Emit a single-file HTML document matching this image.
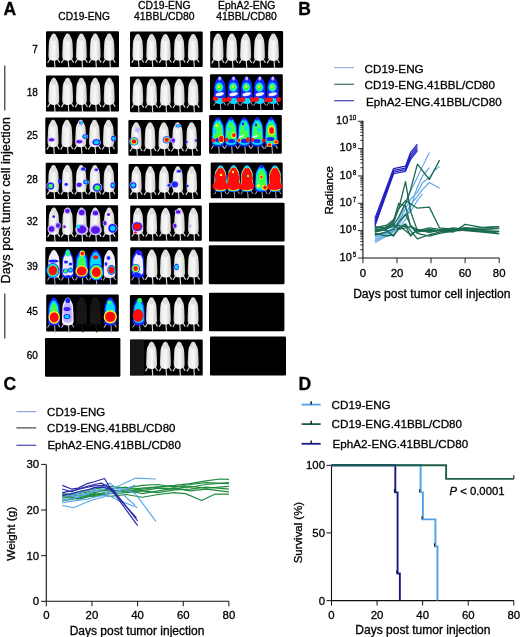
<!DOCTYPE html><html><head><meta charset="utf-8"><title>Figure</title><style>html,body{margin:0;padding:0;background:#fff;}body{width:520px;height:637px;overflow:hidden;}svg{display:block;}text{stroke:#000;stroke-width:0.3px;}</style></head><body><svg width="520" height="637" viewBox="0 0 520 637" font-family="'Liberation Sans', Arial, sans-serif" fill="#000"><defs><linearGradient id="mg" x1="0" x2="1" y1="0" y2="0"><stop offset="0" stop-color="#c4c4c4"/><stop offset="0.16" stop-color="#ebebeb"/><stop offset="0.55" stop-color="#f9f9f9"/><stop offset="1" stop-color="#cacaca"/></linearGradient><filter id="soft" x="-5%" y="-5%" width="110%" height="110%"><feGaussianBlur stdDeviation="0.35"/></filter><filter id="mblur" x="-5%" y="-5%" width="110%" height="110%"><feGaussianBlur stdDeviation="0.55"/></filter><filter id="hblur" x="-5%" y="-5%" width="110%" height="110%"><feGaussianBlur stdDeviation="0.7"/></filter></defs><rect width="520" height="637" fill="#fff"/><g id="panelA"><text x="3.5" y="14.8" font-size="17.5" font-weight="bold">A</text><g font-size="10.4" text-anchor="middle"><text x="84.1" y="20.0" font-size="10.2">CD19-ENG</text><text x="164.3" y="8.6">CD19-ENG</text><text x="164.3" y="20.4">41BBL/CD80</text><text x="246.7" y="8.6">EphA2-ENG</text><text x="246.5" y="20.4">41BBL/CD80</text></g><g font-size="10" text-anchor="end"><text x="37.8" y="52.5">7</text><text x="37.8" y="95.8">18</text><text x="37.8" y="139">25</text><text x="37.8" y="183">28</text><text x="37.8" y="224.8">32</text><text x="37.8" y="270.3">39</text><text x="37.8" y="315.3">45</text><text x="37.8" y="358.6">60</text></g><text transform="translate(9.7,200.3) rotate(-90)" font-size="12.8" text-anchor="middle">Days post tumor cell injection</text><path d="M4.8,65.5 V110.5 M4.8,293.4 V338.6" stroke="#222" stroke-width="1.1"/><g filter="url(#soft)"><rect x="46.00" y="31.30" width="73.00" height="35.90" rx="1.2" fill="#000"/><rect x="46.00" y="75.40" width="73.00" height="36.20" rx="1.2" fill="#000"/><rect x="45.30" y="117.50" width="72.40" height="36.50" rx="1.2" fill="#000"/><rect x="45.70" y="162.80" width="72.30" height="36.10" rx="1.2" fill="#000"/><rect x="46.00" y="205.30" width="72.10" height="36.20" rx="1.2" fill="#000"/><rect x="45.30" y="246.90" width="72.30" height="37.50" rx="1.2" fill="#000"/><rect x="46.20" y="294.50" width="72.60" height="37.00" rx="1.2" fill="#000"/><rect x="45.00" y="338.10" width="75.40" height="38.70" rx="1.2" fill="#000"/><rect x="130.00" y="31.60" width="72.70" height="35.40" rx="1.2" fill="#000"/><rect x="130.00" y="76.40" width="72.70" height="35.80" rx="1.2" fill="#000"/><rect x="128.40" y="119.90" width="72.60" height="35.80" rx="1.2" fill="#000"/><rect x="128.60" y="164.00" width="72.40" height="35.10" rx="1.2" fill="#000"/><rect x="130.20" y="205.40" width="71.60" height="35.40" rx="1.2" fill="#000"/><rect x="130.20" y="247.20" width="72.50" height="37.30" rx="1.2" fill="#000"/><rect x="129.90" y="294.90" width="72.70" height="36.40" rx="1.2" fill="#000"/><rect x="130.00" y="339.40" width="72.70" height="36.20" rx="1.2" fill="#000"/><rect x="210.20" y="31.10" width="72.90" height="36.60" rx="1.2" fill="#000"/><rect x="210.00" y="74.20" width="72.80" height="35.80" rx="1.2" fill="#000"/><rect x="209.10" y="115.00" width="72.70" height="38.70" rx="1.2" fill="#000"/><rect x="210.70" y="162.40" width="72.00" height="35.90" rx="1.2" fill="#000"/><rect x="209.00" y="202.70" width="75.60" height="38.80" rx="1.2" fill="#000"/><rect x="208.80" y="245.30" width="75.70" height="38.90" rx="1.2" fill="#000"/><rect x="209.00" y="292.80" width="75.40" height="38.40" rx="1.2" fill="#000"/><rect x="210.00" y="336.50" width="76.00" height="38.90" rx="1.2" fill="#000"/></g></g><g filter="url(#mblur)"><g transform="translate(53.80,33.60) scale(0.984)" opacity="1.0"><path d="M-3.6,25.5 L-6.0,29.4 M3.6,25.5 L5.8,29.0 M0.6,26.5 L1.2,34.5" stroke="#d8d8d8" stroke-width="1.2" fill="none" stroke-linecap="round"/><path d="M0,0 C1.3,0 2.0,1.0 2.5,2.2 C3.1,3.6 4.0,4.8 4.5,6.5 C5.0,8.5 5.1,11 5.2,14 C5.3,17 5.6,20.5 5.4,23.8 C5.2,26.4 2.8,27.5 0,27.5 C-2.8,27.5 -5.2,26.4 -5.4,23.8 C-5.6,20.5 -5.3,17 -5.2,14 C-5.1,11 -5.0,8.5 -4.5,6.5 C-4.0,4.8 -3.1,3.6 -2.5,2.2 C-2.0,1.0 -1.3,0 0,0 Z" fill="url(#mg)"/><ellipse cx="0" cy="3.6" rx="2.4" ry="3.8" fill="#8a8a8a" opacity="0.2"/></g><g transform="translate(67.60,33.60) scale(0.984)" opacity="1.0"><path d="M-3.6,25.5 L-6.0,29.4 M3.6,25.5 L5.8,29.0 M0.6,26.5 L1.2,34.5" stroke="#d8d8d8" stroke-width="1.2" fill="none" stroke-linecap="round"/><path d="M0,0 C1.3,0 2.0,1.0 2.5,2.2 C3.1,3.6 4.0,4.8 4.5,6.5 C5.0,8.5 5.1,11 5.2,14 C5.3,17 5.6,20.5 5.4,23.8 C5.2,26.4 2.8,27.5 0,27.5 C-2.8,27.5 -5.2,26.4 -5.4,23.8 C-5.6,20.5 -5.3,17 -5.2,14 C-5.1,11 -5.0,8.5 -4.5,6.5 C-4.0,4.8 -3.1,3.6 -2.5,2.2 C-2.0,1.0 -1.3,0 0,0 Z" fill="url(#mg)"/><ellipse cx="0" cy="3.6" rx="2.4" ry="3.8" fill="#8a8a8a" opacity="0.2"/></g><g transform="translate(81.40,33.60) scale(0.984)" opacity="1.0"><path d="M-3.6,25.5 L-6.0,29.4 M3.6,25.5 L5.8,29.0 M0.6,26.5 L1.2,34.5" stroke="#d8d8d8" stroke-width="1.2" fill="none" stroke-linecap="round"/><path d="M0,0 C1.3,0 2.0,1.0 2.5,2.2 C3.1,3.6 4.0,4.8 4.5,6.5 C5.0,8.5 5.1,11 5.2,14 C5.3,17 5.6,20.5 5.4,23.8 C5.2,26.4 2.8,27.5 0,27.5 C-2.8,27.5 -5.2,26.4 -5.4,23.8 C-5.6,20.5 -5.3,17 -5.2,14 C-5.1,11 -5.0,8.5 -4.5,6.5 C-4.0,4.8 -3.1,3.6 -2.5,2.2 C-2.0,1.0 -1.3,0 0,0 Z" fill="url(#mg)"/><ellipse cx="0" cy="3.6" rx="2.4" ry="3.8" fill="#8a8a8a" opacity="0.2"/></g><g transform="translate(95.20,33.60) scale(0.984)" opacity="1.0"><path d="M-3.6,25.5 L-6.0,29.4 M3.6,25.5 L5.8,29.0 M0.6,26.5 L1.2,34.5" stroke="#d8d8d8" stroke-width="1.2" fill="none" stroke-linecap="round"/><path d="M0,0 C1.3,0 2.0,1.0 2.5,2.2 C3.1,3.6 4.0,4.8 4.5,6.5 C5.0,8.5 5.1,11 5.2,14 C5.3,17 5.6,20.5 5.4,23.8 C5.2,26.4 2.8,27.5 0,27.5 C-2.8,27.5 -5.2,26.4 -5.4,23.8 C-5.6,20.5 -5.3,17 -5.2,14 C-5.1,11 -5.0,8.5 -4.5,6.5 C-4.0,4.8 -3.1,3.6 -2.5,2.2 C-2.0,1.0 -1.3,0 0,0 Z" fill="url(#mg)"/><ellipse cx="0" cy="3.6" rx="2.4" ry="3.8" fill="#8a8a8a" opacity="0.2"/></g><g transform="translate(109.20,33.60) scale(0.984)" opacity="1.0"><path d="M-3.6,25.5 L-6.0,29.4 M3.6,25.5 L5.8,29.0 M0.6,26.5 L1.2,34.5" stroke="#d8d8d8" stroke-width="1.2" fill="none" stroke-linecap="round"/><path d="M0,0 C1.3,0 2.0,1.0 2.5,2.2 C3.1,3.6 4.0,4.8 4.5,6.5 C5.0,8.5 5.1,11 5.2,14 C5.3,17 5.6,20.5 5.4,23.8 C5.2,26.4 2.8,27.5 0,27.5 C-2.8,27.5 -5.2,26.4 -5.4,23.8 C-5.6,20.5 -5.3,17 -5.2,14 C-5.1,11 -5.0,8.5 -4.5,6.5 C-4.0,4.8 -3.1,3.6 -2.5,2.2 C-2.0,1.0 -1.3,0 0,0 Z" fill="url(#mg)"/><ellipse cx="0" cy="3.6" rx="2.4" ry="3.8" fill="#8a8a8a" opacity="0.2"/></g><g transform="translate(53.80,77.70) scale(0.992)" opacity="1.0"><path d="M-3.6,25.5 L-6.0,29.4 M3.6,25.5 L5.8,29.0 M0.6,26.5 L1.2,34.5" stroke="#d8d8d8" stroke-width="1.2" fill="none" stroke-linecap="round"/><path d="M0,0 C1.3,0 2.0,1.0 2.5,2.2 C3.1,3.6 4.0,4.8 4.5,6.5 C5.0,8.5 5.1,11 5.2,14 C5.3,17 5.6,20.5 5.4,23.8 C5.2,26.4 2.8,27.5 0,27.5 C-2.8,27.5 -5.2,26.4 -5.4,23.8 C-5.6,20.5 -5.3,17 -5.2,14 C-5.1,11 -5.0,8.5 -4.5,6.5 C-4.0,4.8 -3.1,3.6 -2.5,2.2 C-2.0,1.0 -1.3,0 0,0 Z" fill="url(#mg)"/><ellipse cx="0" cy="3.6" rx="2.4" ry="3.8" fill="#8a8a8a" opacity="0.2"/></g><g transform="translate(67.60,77.70) scale(0.992)" opacity="1.0"><path d="M-3.6,25.5 L-6.0,29.4 M3.6,25.5 L5.8,29.0 M0.6,26.5 L1.2,34.5" stroke="#d8d8d8" stroke-width="1.2" fill="none" stroke-linecap="round"/><path d="M0,0 C1.3,0 2.0,1.0 2.5,2.2 C3.1,3.6 4.0,4.8 4.5,6.5 C5.0,8.5 5.1,11 5.2,14 C5.3,17 5.6,20.5 5.4,23.8 C5.2,26.4 2.8,27.5 0,27.5 C-2.8,27.5 -5.2,26.4 -5.4,23.8 C-5.6,20.5 -5.3,17 -5.2,14 C-5.1,11 -5.0,8.5 -4.5,6.5 C-4.0,4.8 -3.1,3.6 -2.5,2.2 C-2.0,1.0 -1.3,0 0,0 Z" fill="url(#mg)"/><ellipse cx="0" cy="3.6" rx="2.4" ry="3.8" fill="#8a8a8a" opacity="0.2"/></g><g transform="translate(81.40,77.70) scale(0.992)" opacity="1.0"><path d="M-3.6,25.5 L-6.0,29.4 M3.6,25.5 L5.8,29.0 M0.6,26.5 L1.2,34.5" stroke="#d8d8d8" stroke-width="1.2" fill="none" stroke-linecap="round"/><path d="M0,0 C1.3,0 2.0,1.0 2.5,2.2 C3.1,3.6 4.0,4.8 4.5,6.5 C5.0,8.5 5.1,11 5.2,14 C5.3,17 5.6,20.5 5.4,23.8 C5.2,26.4 2.8,27.5 0,27.5 C-2.8,27.5 -5.2,26.4 -5.4,23.8 C-5.6,20.5 -5.3,17 -5.2,14 C-5.1,11 -5.0,8.5 -4.5,6.5 C-4.0,4.8 -3.1,3.6 -2.5,2.2 C-2.0,1.0 -1.3,0 0,0 Z" fill="url(#mg)"/><ellipse cx="0" cy="3.6" rx="2.4" ry="3.8" fill="#8a8a8a" opacity="0.2"/></g><g transform="translate(95.20,77.70) scale(0.992)" opacity="1.0"><path d="M-3.6,25.5 L-6.0,29.4 M3.6,25.5 L5.8,29.0 M0.6,26.5 L1.2,34.5" stroke="#d8d8d8" stroke-width="1.2" fill="none" stroke-linecap="round"/><path d="M0,0 C1.3,0 2.0,1.0 2.5,2.2 C3.1,3.6 4.0,4.8 4.5,6.5 C5.0,8.5 5.1,11 5.2,14 C5.3,17 5.6,20.5 5.4,23.8 C5.2,26.4 2.8,27.5 0,27.5 C-2.8,27.5 -5.2,26.4 -5.4,23.8 C-5.6,20.5 -5.3,17 -5.2,14 C-5.1,11 -5.0,8.5 -4.5,6.5 C-4.0,4.8 -3.1,3.6 -2.5,2.2 C-2.0,1.0 -1.3,0 0,0 Z" fill="url(#mg)"/><ellipse cx="0" cy="3.6" rx="2.4" ry="3.8" fill="#8a8a8a" opacity="0.2"/></g><g transform="translate(109.20,77.70) scale(0.992)" opacity="1.0"><path d="M-3.6,25.5 L-6.0,29.4 M3.6,25.5 L5.8,29.0 M0.6,26.5 L1.2,34.5" stroke="#d8d8d8" stroke-width="1.2" fill="none" stroke-linecap="round"/><path d="M0,0 C1.3,0 2.0,1.0 2.5,2.2 C3.1,3.6 4.0,4.8 4.5,6.5 C5.0,8.5 5.1,11 5.2,14 C5.3,17 5.6,20.5 5.4,23.8 C5.2,26.4 2.8,27.5 0,27.5 C-2.8,27.5 -5.2,26.4 -5.4,23.8 C-5.6,20.5 -5.3,17 -5.2,14 C-5.1,11 -5.0,8.5 -4.5,6.5 C-4.0,4.8 -3.1,3.6 -2.5,2.2 C-2.0,1.0 -1.3,0 0,0 Z" fill="url(#mg)"/><ellipse cx="0" cy="3.6" rx="2.4" ry="3.8" fill="#8a8a8a" opacity="0.2"/></g><g transform="translate(53.10,119.80) scale(1.000)" opacity="1.0"><path d="M-3.6,25.5 L-6.0,29.4 M3.6,25.5 L5.8,29.0 M0.6,26.5 L1.2,34.5" stroke="#d8d8d8" stroke-width="1.2" fill="none" stroke-linecap="round"/><path d="M0,0 C1.3,0 2.0,1.0 2.5,2.2 C3.1,3.6 4.0,4.8 4.5,6.5 C5.0,8.5 5.1,11 5.2,14 C5.3,17 5.6,20.5 5.4,23.8 C5.2,26.4 2.8,27.5 0,27.5 C-2.8,27.5 -5.2,26.4 -5.4,23.8 C-5.6,20.5 -5.3,17 -5.2,14 C-5.1,11 -5.0,8.5 -4.5,6.5 C-4.0,4.8 -3.1,3.6 -2.5,2.2 C-2.0,1.0 -1.3,0 0,0 Z" fill="url(#mg)"/><ellipse cx="0" cy="3.6" rx="2.4" ry="3.8" fill="#8a8a8a" opacity="0.2"/></g><g transform="translate(66.90,119.80) scale(1.000)" opacity="1.0"><path d="M-3.6,25.5 L-6.0,29.4 M3.6,25.5 L5.8,29.0 M0.6,26.5 L1.2,34.5" stroke="#d8d8d8" stroke-width="1.2" fill="none" stroke-linecap="round"/><path d="M0,0 C1.3,0 2.0,1.0 2.5,2.2 C3.1,3.6 4.0,4.8 4.5,6.5 C5.0,8.5 5.1,11 5.2,14 C5.3,17 5.6,20.5 5.4,23.8 C5.2,26.4 2.8,27.5 0,27.5 C-2.8,27.5 -5.2,26.4 -5.4,23.8 C-5.6,20.5 -5.3,17 -5.2,14 C-5.1,11 -5.0,8.5 -4.5,6.5 C-4.0,4.8 -3.1,3.6 -2.5,2.2 C-2.0,1.0 -1.3,0 0,0 Z" fill="url(#mg)"/><ellipse cx="0" cy="3.6" rx="2.4" ry="3.8" fill="#8a8a8a" opacity="0.2"/></g><g transform="translate(80.70,119.80) scale(1.000)" opacity="1.0"><path d="M-3.6,25.5 L-6.0,29.4 M3.6,25.5 L5.8,29.0 M0.6,26.5 L1.2,34.5" stroke="#d8d8d8" stroke-width="1.2" fill="none" stroke-linecap="round"/><path d="M0,0 C1.3,0 2.0,1.0 2.5,2.2 C3.1,3.6 4.0,4.8 4.5,6.5 C5.0,8.5 5.1,11 5.2,14 C5.3,17 5.6,20.5 5.4,23.8 C5.2,26.4 2.8,27.5 0,27.5 C-2.8,27.5 -5.2,26.4 -5.4,23.8 C-5.6,20.5 -5.3,17 -5.2,14 C-5.1,11 -5.0,8.5 -4.5,6.5 C-4.0,4.8 -3.1,3.6 -2.5,2.2 C-2.0,1.0 -1.3,0 0,0 Z" fill="url(#mg)"/><ellipse cx="0" cy="3.6" rx="2.4" ry="3.8" fill="#8a8a8a" opacity="0.2"/></g><g transform="translate(94.50,119.80) scale(1.000)" opacity="1.0"><path d="M-3.6,25.5 L-6.0,29.4 M3.6,25.5 L5.8,29.0 M0.6,26.5 L1.2,34.5" stroke="#d8d8d8" stroke-width="1.2" fill="none" stroke-linecap="round"/><path d="M0,0 C1.3,0 2.0,1.0 2.5,2.2 C3.1,3.6 4.0,4.8 4.5,6.5 C5.0,8.5 5.1,11 5.2,14 C5.3,17 5.6,20.5 5.4,23.8 C5.2,26.4 2.8,27.5 0,27.5 C-2.8,27.5 -5.2,26.4 -5.4,23.8 C-5.6,20.5 -5.3,17 -5.2,14 C-5.1,11 -5.0,8.5 -4.5,6.5 C-4.0,4.8 -3.1,3.6 -2.5,2.2 C-2.0,1.0 -1.3,0 0,0 Z" fill="url(#mg)"/><ellipse cx="0" cy="3.6" rx="2.4" ry="3.8" fill="#8a8a8a" opacity="0.2"/></g><g transform="translate(108.50,119.80) scale(1.000)" opacity="1.0"><path d="M-3.6,25.5 L-6.0,29.4 M3.6,25.5 L5.8,29.0 M0.6,26.5 L1.2,34.5" stroke="#d8d8d8" stroke-width="1.2" fill="none" stroke-linecap="round"/><path d="M0,0 C1.3,0 2.0,1.0 2.5,2.2 C3.1,3.6 4.0,4.8 4.5,6.5 C5.0,8.5 5.1,11 5.2,14 C5.3,17 5.6,20.5 5.4,23.8 C5.2,26.4 2.8,27.5 0,27.5 C-2.8,27.5 -5.2,26.4 -5.4,23.8 C-5.6,20.5 -5.3,17 -5.2,14 C-5.1,11 -5.0,8.5 -4.5,6.5 C-4.0,4.8 -3.1,3.6 -2.5,2.2 C-2.0,1.0 -1.3,0 0,0 Z" fill="url(#mg)"/><ellipse cx="0" cy="3.6" rx="2.4" ry="3.8" fill="#8a8a8a" opacity="0.2"/></g><g transform="translate(53.50,165.10) scale(0.989)" opacity="1.0"><path d="M-3.6,25.5 L-6.0,29.4 M3.6,25.5 L5.8,29.0 M0.6,26.5 L1.2,34.5" stroke="#d8d8d8" stroke-width="1.2" fill="none" stroke-linecap="round"/><path d="M0,0 C1.3,0 2.0,1.0 2.5,2.2 C3.1,3.6 4.0,4.8 4.5,6.5 C5.0,8.5 5.1,11 5.2,14 C5.3,17 5.6,20.5 5.4,23.8 C5.2,26.4 2.8,27.5 0,27.5 C-2.8,27.5 -5.2,26.4 -5.4,23.8 C-5.6,20.5 -5.3,17 -5.2,14 C-5.1,11 -5.0,8.5 -4.5,6.5 C-4.0,4.8 -3.1,3.6 -2.5,2.2 C-2.0,1.0 -1.3,0 0,0 Z" fill="url(#mg)"/><ellipse cx="0" cy="3.6" rx="2.4" ry="3.8" fill="#8a8a8a" opacity="0.2"/></g><g transform="translate(67.30,165.10) scale(0.989)" opacity="1.0"><path d="M-3.6,25.5 L-6.0,29.4 M3.6,25.5 L5.8,29.0 M0.6,26.5 L1.2,34.5" stroke="#d8d8d8" stroke-width="1.2" fill="none" stroke-linecap="round"/><path d="M0,0 C1.3,0 2.0,1.0 2.5,2.2 C3.1,3.6 4.0,4.8 4.5,6.5 C5.0,8.5 5.1,11 5.2,14 C5.3,17 5.6,20.5 5.4,23.8 C5.2,26.4 2.8,27.5 0,27.5 C-2.8,27.5 -5.2,26.4 -5.4,23.8 C-5.6,20.5 -5.3,17 -5.2,14 C-5.1,11 -5.0,8.5 -4.5,6.5 C-4.0,4.8 -3.1,3.6 -2.5,2.2 C-2.0,1.0 -1.3,0 0,0 Z" fill="url(#mg)"/><ellipse cx="0" cy="3.6" rx="2.4" ry="3.8" fill="#8a8a8a" opacity="0.2"/></g><g transform="translate(81.10,165.10) scale(0.989)" opacity="1.0"><path d="M-3.6,25.5 L-6.0,29.4 M3.6,25.5 L5.8,29.0 M0.6,26.5 L1.2,34.5" stroke="#d8d8d8" stroke-width="1.2" fill="none" stroke-linecap="round"/><path d="M0,0 C1.3,0 2.0,1.0 2.5,2.2 C3.1,3.6 4.0,4.8 4.5,6.5 C5.0,8.5 5.1,11 5.2,14 C5.3,17 5.6,20.5 5.4,23.8 C5.2,26.4 2.8,27.5 0,27.5 C-2.8,27.5 -5.2,26.4 -5.4,23.8 C-5.6,20.5 -5.3,17 -5.2,14 C-5.1,11 -5.0,8.5 -4.5,6.5 C-4.0,4.8 -3.1,3.6 -2.5,2.2 C-2.0,1.0 -1.3,0 0,0 Z" fill="url(#mg)"/><ellipse cx="0" cy="3.6" rx="2.4" ry="3.8" fill="#8a8a8a" opacity="0.2"/></g><g transform="translate(94.90,165.10) scale(0.989)" opacity="1.0"><path d="M-3.6,25.5 L-6.0,29.4 M3.6,25.5 L5.8,29.0 M0.6,26.5 L1.2,34.5" stroke="#d8d8d8" stroke-width="1.2" fill="none" stroke-linecap="round"/><path d="M0,0 C1.3,0 2.0,1.0 2.5,2.2 C3.1,3.6 4.0,4.8 4.5,6.5 C5.0,8.5 5.1,11 5.2,14 C5.3,17 5.6,20.5 5.4,23.8 C5.2,26.4 2.8,27.5 0,27.5 C-2.8,27.5 -5.2,26.4 -5.4,23.8 C-5.6,20.5 -5.3,17 -5.2,14 C-5.1,11 -5.0,8.5 -4.5,6.5 C-4.0,4.8 -3.1,3.6 -2.5,2.2 C-2.0,1.0 -1.3,0 0,0 Z" fill="url(#mg)"/><ellipse cx="0" cy="3.6" rx="2.4" ry="3.8" fill="#8a8a8a" opacity="0.2"/></g><g transform="translate(108.90,165.10) scale(0.989)" opacity="1.0"><path d="M-3.6,25.5 L-6.0,29.4 M3.6,25.5 L5.8,29.0 M0.6,26.5 L1.2,34.5" stroke="#d8d8d8" stroke-width="1.2" fill="none" stroke-linecap="round"/><path d="M0,0 C1.3,0 2.0,1.0 2.5,2.2 C3.1,3.6 4.0,4.8 4.5,6.5 C5.0,8.5 5.1,11 5.2,14 C5.3,17 5.6,20.5 5.4,23.8 C5.2,26.4 2.8,27.5 0,27.5 C-2.8,27.5 -5.2,26.4 -5.4,23.8 C-5.6,20.5 -5.3,17 -5.2,14 C-5.1,11 -5.0,8.5 -4.5,6.5 C-4.0,4.8 -3.1,3.6 -2.5,2.2 C-2.0,1.0 -1.3,0 0,0 Z" fill="url(#mg)"/><ellipse cx="0" cy="3.6" rx="2.4" ry="3.8" fill="#8a8a8a" opacity="0.2"/></g><g transform="translate(53.80,207.60) scale(0.992)" opacity="1.0"><path d="M-3.6,25.5 L-6.0,29.4 M3.6,25.5 L5.8,29.0 M0.6,26.5 L1.2,34.5" stroke="#d8d8d8" stroke-width="1.2" fill="none" stroke-linecap="round"/><path d="M0,0 C1.3,0 2.0,1.0 2.5,2.2 C3.1,3.6 4.0,4.8 4.5,6.5 C5.0,8.5 5.1,11 5.2,14 C5.3,17 5.6,20.5 5.4,23.8 C5.2,26.4 2.8,27.5 0,27.5 C-2.8,27.5 -5.2,26.4 -5.4,23.8 C-5.6,20.5 -5.3,17 -5.2,14 C-5.1,11 -5.0,8.5 -4.5,6.5 C-4.0,4.8 -3.1,3.6 -2.5,2.2 C-2.0,1.0 -1.3,0 0,0 Z" fill="url(#mg)"/><ellipse cx="0" cy="3.6" rx="2.4" ry="3.8" fill="#8a8a8a" opacity="0.2"/></g><g transform="translate(67.60,207.60) scale(0.992)" opacity="1.0"><path d="M-3.6,25.5 L-6.0,29.4 M3.6,25.5 L5.8,29.0 M0.6,26.5 L1.2,34.5" stroke="#d8d8d8" stroke-width="1.2" fill="none" stroke-linecap="round"/><path d="M0,0 C1.3,0 2.0,1.0 2.5,2.2 C3.1,3.6 4.0,4.8 4.5,6.5 C5.0,8.5 5.1,11 5.2,14 C5.3,17 5.6,20.5 5.4,23.8 C5.2,26.4 2.8,27.5 0,27.5 C-2.8,27.5 -5.2,26.4 -5.4,23.8 C-5.6,20.5 -5.3,17 -5.2,14 C-5.1,11 -5.0,8.5 -4.5,6.5 C-4.0,4.8 -3.1,3.6 -2.5,2.2 C-2.0,1.0 -1.3,0 0,0 Z" fill="url(#mg)"/><ellipse cx="0" cy="3.6" rx="2.4" ry="3.8" fill="#8a8a8a" opacity="0.2"/></g><g transform="translate(81.40,207.60) scale(0.992)" opacity="1.0"><path d="M-3.6,25.5 L-6.0,29.4 M3.6,25.5 L5.8,29.0 M0.6,26.5 L1.2,34.5" stroke="#d8d8d8" stroke-width="1.2" fill="none" stroke-linecap="round"/><path d="M0,0 C1.3,0 2.0,1.0 2.5,2.2 C3.1,3.6 4.0,4.8 4.5,6.5 C5.0,8.5 5.1,11 5.2,14 C5.3,17 5.6,20.5 5.4,23.8 C5.2,26.4 2.8,27.5 0,27.5 C-2.8,27.5 -5.2,26.4 -5.4,23.8 C-5.6,20.5 -5.3,17 -5.2,14 C-5.1,11 -5.0,8.5 -4.5,6.5 C-4.0,4.8 -3.1,3.6 -2.5,2.2 C-2.0,1.0 -1.3,0 0,0 Z" fill="url(#mg)"/><ellipse cx="0" cy="3.6" rx="2.4" ry="3.8" fill="#8a8a8a" opacity="0.2"/></g><g transform="translate(95.20,207.60) scale(0.992)" opacity="1.0"><path d="M-3.6,25.5 L-6.0,29.4 M3.6,25.5 L5.8,29.0 M0.6,26.5 L1.2,34.5" stroke="#d8d8d8" stroke-width="1.2" fill="none" stroke-linecap="round"/><path d="M0,0 C1.3,0 2.0,1.0 2.5,2.2 C3.1,3.6 4.0,4.8 4.5,6.5 C5.0,8.5 5.1,11 5.2,14 C5.3,17 5.6,20.5 5.4,23.8 C5.2,26.4 2.8,27.5 0,27.5 C-2.8,27.5 -5.2,26.4 -5.4,23.8 C-5.6,20.5 -5.3,17 -5.2,14 C-5.1,11 -5.0,8.5 -4.5,6.5 C-4.0,4.8 -3.1,3.6 -2.5,2.2 C-2.0,1.0 -1.3,0 0,0 Z" fill="url(#mg)"/><ellipse cx="0" cy="3.6" rx="2.4" ry="3.8" fill="#8a8a8a" opacity="0.2"/></g><g transform="translate(109.20,207.60) scale(0.992)" opacity="1.0"><path d="M-3.6,25.5 L-6.0,29.4 M3.6,25.5 L5.8,29.0 M0.6,26.5 L1.2,34.5" stroke="#d8d8d8" stroke-width="1.2" fill="none" stroke-linecap="round"/><path d="M0,0 C1.3,0 2.0,1.0 2.5,2.2 C3.1,3.6 4.0,4.8 4.5,6.5 C5.0,8.5 5.1,11 5.2,14 C5.3,17 5.6,20.5 5.4,23.8 C5.2,26.4 2.8,27.5 0,27.5 C-2.8,27.5 -5.2,26.4 -5.4,23.8 C-5.6,20.5 -5.3,17 -5.2,14 C-5.1,11 -5.0,8.5 -4.5,6.5 C-4.0,4.8 -3.1,3.6 -2.5,2.2 C-2.0,1.0 -1.3,0 0,0 Z" fill="url(#mg)"/><ellipse cx="0" cy="3.6" rx="2.4" ry="3.8" fill="#8a8a8a" opacity="0.2"/></g><g transform="translate(81.60,296.80) scale(1.014)" opacity="1.0"><path d="M-3.6,25.5 L-6.0,29.4 M3.6,25.5 L5.8,29.0 M0.6,26.5 L1.2,34.5" stroke="#131313" stroke-width="1.2" fill="none" stroke-linecap="round"/><path d="M0,0 C1.3,0 2.0,1.0 2.5,2.2 C3.1,3.6 4.0,4.8 4.5,6.5 C5.0,8.5 5.1,11 5.2,14 C5.3,17 5.6,20.5 5.4,23.8 C5.2,26.4 2.8,27.5 0,27.5 C-2.8,27.5 -5.2,26.4 -5.4,23.8 C-5.6,20.5 -5.3,17 -5.2,14 C-5.1,11 -5.0,8.5 -4.5,6.5 C-4.0,4.8 -3.1,3.6 -2.5,2.2 C-2.0,1.0 -1.3,0 0,0 Z" fill="#151515"/></g><g transform="translate(95.40,296.80) scale(1.014)" opacity="1.0"><path d="M-3.6,25.5 L-6.0,29.4 M3.6,25.5 L5.8,29.0 M0.6,26.5 L1.2,34.5" stroke="#131313" stroke-width="1.2" fill="none" stroke-linecap="round"/><path d="M0,0 C1.3,0 2.0,1.0 2.5,2.2 C3.1,3.6 4.0,4.8 4.5,6.5 C5.0,8.5 5.1,11 5.2,14 C5.3,17 5.6,20.5 5.4,23.8 C5.2,26.4 2.8,27.5 0,27.5 C-2.8,27.5 -5.2,26.4 -5.4,23.8 C-5.6,20.5 -5.3,17 -5.2,14 C-5.1,11 -5.0,8.5 -4.5,6.5 C-4.0,4.8 -3.1,3.6 -2.5,2.2 C-2.0,1.0 -1.3,0 0,0 Z" fill="#151515"/></g><g transform="translate(137.80,33.90) scale(0.970)" opacity="1.0"><path d="M-3.6,25.5 L-6.0,29.4 M3.6,25.5 L5.8,29.0 M0.6,26.5 L1.2,34.5" stroke="#d8d8d8" stroke-width="1.2" fill="none" stroke-linecap="round"/><path d="M0,0 C1.3,0 2.0,1.0 2.5,2.2 C3.1,3.6 4.0,4.8 4.5,6.5 C5.0,8.5 5.1,11 5.2,14 C5.3,17 5.6,20.5 5.4,23.8 C5.2,26.4 2.8,27.5 0,27.5 C-2.8,27.5 -5.2,26.4 -5.4,23.8 C-5.6,20.5 -5.3,17 -5.2,14 C-5.1,11 -5.0,8.5 -4.5,6.5 C-4.0,4.8 -3.1,3.6 -2.5,2.2 C-2.0,1.0 -1.3,0 0,0 Z" fill="url(#mg)"/><ellipse cx="0" cy="3.6" rx="2.4" ry="3.8" fill="#8a8a8a" opacity="0.2"/></g><g transform="translate(151.60,33.90) scale(0.970)" opacity="1.0"><path d="M-3.6,25.5 L-6.0,29.4 M3.6,25.5 L5.8,29.0 M0.6,26.5 L1.2,34.5" stroke="#d8d8d8" stroke-width="1.2" fill="none" stroke-linecap="round"/><path d="M0,0 C1.3,0 2.0,1.0 2.5,2.2 C3.1,3.6 4.0,4.8 4.5,6.5 C5.0,8.5 5.1,11 5.2,14 C5.3,17 5.6,20.5 5.4,23.8 C5.2,26.4 2.8,27.5 0,27.5 C-2.8,27.5 -5.2,26.4 -5.4,23.8 C-5.6,20.5 -5.3,17 -5.2,14 C-5.1,11 -5.0,8.5 -4.5,6.5 C-4.0,4.8 -3.1,3.6 -2.5,2.2 C-2.0,1.0 -1.3,0 0,0 Z" fill="url(#mg)"/><ellipse cx="0" cy="3.6" rx="2.4" ry="3.8" fill="#8a8a8a" opacity="0.2"/></g><g transform="translate(165.40,33.90) scale(0.970)" opacity="1.0"><path d="M-3.6,25.5 L-6.0,29.4 M3.6,25.5 L5.8,29.0 M0.6,26.5 L1.2,34.5" stroke="#d8d8d8" stroke-width="1.2" fill="none" stroke-linecap="round"/><path d="M0,0 C1.3,0 2.0,1.0 2.5,2.2 C3.1,3.6 4.0,4.8 4.5,6.5 C5.0,8.5 5.1,11 5.2,14 C5.3,17 5.6,20.5 5.4,23.8 C5.2,26.4 2.8,27.5 0,27.5 C-2.8,27.5 -5.2,26.4 -5.4,23.8 C-5.6,20.5 -5.3,17 -5.2,14 C-5.1,11 -5.0,8.5 -4.5,6.5 C-4.0,4.8 -3.1,3.6 -2.5,2.2 C-2.0,1.0 -1.3,0 0,0 Z" fill="url(#mg)"/><ellipse cx="0" cy="3.6" rx="2.4" ry="3.8" fill="#8a8a8a" opacity="0.2"/></g><g transform="translate(179.20,33.90) scale(0.970)" opacity="1.0"><path d="M-3.6,25.5 L-6.0,29.4 M3.6,25.5 L5.8,29.0 M0.6,26.5 L1.2,34.5" stroke="#d8d8d8" stroke-width="1.2" fill="none" stroke-linecap="round"/><path d="M0,0 C1.3,0 2.0,1.0 2.5,2.2 C3.1,3.6 4.0,4.8 4.5,6.5 C5.0,8.5 5.1,11 5.2,14 C5.3,17 5.6,20.5 5.4,23.8 C5.2,26.4 2.8,27.5 0,27.5 C-2.8,27.5 -5.2,26.4 -5.4,23.8 C-5.6,20.5 -5.3,17 -5.2,14 C-5.1,11 -5.0,8.5 -4.5,6.5 C-4.0,4.8 -3.1,3.6 -2.5,2.2 C-2.0,1.0 -1.3,0 0,0 Z" fill="url(#mg)"/><ellipse cx="0" cy="3.6" rx="2.4" ry="3.8" fill="#8a8a8a" opacity="0.2"/></g><g transform="translate(193.20,33.90) scale(0.970)" opacity="1.0"><path d="M-3.6,25.5 L-6.0,29.4 M3.6,25.5 L5.8,29.0 M0.6,26.5 L1.2,34.5" stroke="#d8d8d8" stroke-width="1.2" fill="none" stroke-linecap="round"/><path d="M0,0 C1.3,0 2.0,1.0 2.5,2.2 C3.1,3.6 4.0,4.8 4.5,6.5 C5.0,8.5 5.1,11 5.2,14 C5.3,17 5.6,20.5 5.4,23.8 C5.2,26.4 2.8,27.5 0,27.5 C-2.8,27.5 -5.2,26.4 -5.4,23.8 C-5.6,20.5 -5.3,17 -5.2,14 C-5.1,11 -5.0,8.5 -4.5,6.5 C-4.0,4.8 -3.1,3.6 -2.5,2.2 C-2.0,1.0 -1.3,0 0,0 Z" fill="url(#mg)"/><ellipse cx="0" cy="3.6" rx="2.4" ry="3.8" fill="#8a8a8a" opacity="0.2"/></g><g transform="translate(137.80,78.70) scale(0.981)" opacity="1.0"><path d="M-3.6,25.5 L-6.0,29.4 M3.6,25.5 L5.8,29.0 M0.6,26.5 L1.2,34.5" stroke="#d8d8d8" stroke-width="1.2" fill="none" stroke-linecap="round"/><path d="M0,0 C1.3,0 2.0,1.0 2.5,2.2 C3.1,3.6 4.0,4.8 4.5,6.5 C5.0,8.5 5.1,11 5.2,14 C5.3,17 5.6,20.5 5.4,23.8 C5.2,26.4 2.8,27.5 0,27.5 C-2.8,27.5 -5.2,26.4 -5.4,23.8 C-5.6,20.5 -5.3,17 -5.2,14 C-5.1,11 -5.0,8.5 -4.5,6.5 C-4.0,4.8 -3.1,3.6 -2.5,2.2 C-2.0,1.0 -1.3,0 0,0 Z" fill="url(#mg)"/><ellipse cx="0" cy="3.6" rx="2.4" ry="3.8" fill="#8a8a8a" opacity="0.2"/></g><g transform="translate(151.60,78.70) scale(0.981)" opacity="1.0"><path d="M-3.6,25.5 L-6.0,29.4 M3.6,25.5 L5.8,29.0 M0.6,26.5 L1.2,34.5" stroke="#d8d8d8" stroke-width="1.2" fill="none" stroke-linecap="round"/><path d="M0,0 C1.3,0 2.0,1.0 2.5,2.2 C3.1,3.6 4.0,4.8 4.5,6.5 C5.0,8.5 5.1,11 5.2,14 C5.3,17 5.6,20.5 5.4,23.8 C5.2,26.4 2.8,27.5 0,27.5 C-2.8,27.5 -5.2,26.4 -5.4,23.8 C-5.6,20.5 -5.3,17 -5.2,14 C-5.1,11 -5.0,8.5 -4.5,6.5 C-4.0,4.8 -3.1,3.6 -2.5,2.2 C-2.0,1.0 -1.3,0 0,0 Z" fill="url(#mg)"/><ellipse cx="0" cy="3.6" rx="2.4" ry="3.8" fill="#8a8a8a" opacity="0.2"/></g><g transform="translate(165.40,78.70) scale(0.981)" opacity="1.0"><path d="M-3.6,25.5 L-6.0,29.4 M3.6,25.5 L5.8,29.0 M0.6,26.5 L1.2,34.5" stroke="#d8d8d8" stroke-width="1.2" fill="none" stroke-linecap="round"/><path d="M0,0 C1.3,0 2.0,1.0 2.5,2.2 C3.1,3.6 4.0,4.8 4.5,6.5 C5.0,8.5 5.1,11 5.2,14 C5.3,17 5.6,20.5 5.4,23.8 C5.2,26.4 2.8,27.5 0,27.5 C-2.8,27.5 -5.2,26.4 -5.4,23.8 C-5.6,20.5 -5.3,17 -5.2,14 C-5.1,11 -5.0,8.5 -4.5,6.5 C-4.0,4.8 -3.1,3.6 -2.5,2.2 C-2.0,1.0 -1.3,0 0,0 Z" fill="url(#mg)"/><ellipse cx="0" cy="3.6" rx="2.4" ry="3.8" fill="#8a8a8a" opacity="0.2"/></g><g transform="translate(179.20,78.70) scale(0.981)" opacity="1.0"><path d="M-3.6,25.5 L-6.0,29.4 M3.6,25.5 L5.8,29.0 M0.6,26.5 L1.2,34.5" stroke="#d8d8d8" stroke-width="1.2" fill="none" stroke-linecap="round"/><path d="M0,0 C1.3,0 2.0,1.0 2.5,2.2 C3.1,3.6 4.0,4.8 4.5,6.5 C5.0,8.5 5.1,11 5.2,14 C5.3,17 5.6,20.5 5.4,23.8 C5.2,26.4 2.8,27.5 0,27.5 C-2.8,27.5 -5.2,26.4 -5.4,23.8 C-5.6,20.5 -5.3,17 -5.2,14 C-5.1,11 -5.0,8.5 -4.5,6.5 C-4.0,4.8 -3.1,3.6 -2.5,2.2 C-2.0,1.0 -1.3,0 0,0 Z" fill="url(#mg)"/><ellipse cx="0" cy="3.6" rx="2.4" ry="3.8" fill="#8a8a8a" opacity="0.2"/></g><g transform="translate(193.20,78.70) scale(0.981)" opacity="1.0"><path d="M-3.6,25.5 L-6.0,29.4 M3.6,25.5 L5.8,29.0 M0.6,26.5 L1.2,34.5" stroke="#d8d8d8" stroke-width="1.2" fill="none" stroke-linecap="round"/><path d="M0,0 C1.3,0 2.0,1.0 2.5,2.2 C3.1,3.6 4.0,4.8 4.5,6.5 C5.0,8.5 5.1,11 5.2,14 C5.3,17 5.6,20.5 5.4,23.8 C5.2,26.4 2.8,27.5 0,27.5 C-2.8,27.5 -5.2,26.4 -5.4,23.8 C-5.6,20.5 -5.3,17 -5.2,14 C-5.1,11 -5.0,8.5 -4.5,6.5 C-4.0,4.8 -3.1,3.6 -2.5,2.2 C-2.0,1.0 -1.3,0 0,0 Z" fill="url(#mg)"/><ellipse cx="0" cy="3.6" rx="2.4" ry="3.8" fill="#8a8a8a" opacity="0.2"/></g><g transform="translate(136.20,122.20) scale(0.981)" opacity="1.0"><path d="M-3.6,25.5 L-6.0,29.4 M3.6,25.5 L5.8,29.0 M0.6,26.5 L1.2,34.5" stroke="#d8d8d8" stroke-width="1.2" fill="none" stroke-linecap="round"/><path d="M0,0 C1.3,0 2.0,1.0 2.5,2.2 C3.1,3.6 4.0,4.8 4.5,6.5 C5.0,8.5 5.1,11 5.2,14 C5.3,17 5.6,20.5 5.4,23.8 C5.2,26.4 2.8,27.5 0,27.5 C-2.8,27.5 -5.2,26.4 -5.4,23.8 C-5.6,20.5 -5.3,17 -5.2,14 C-5.1,11 -5.0,8.5 -4.5,6.5 C-4.0,4.8 -3.1,3.6 -2.5,2.2 C-2.0,1.0 -1.3,0 0,0 Z" fill="url(#mg)"/><ellipse cx="0" cy="3.6" rx="2.4" ry="3.8" fill="#8a8a8a" opacity="0.2"/></g><g transform="translate(150.00,122.20) scale(0.981)" opacity="1.0"><path d="M-3.6,25.5 L-6.0,29.4 M3.6,25.5 L5.8,29.0 M0.6,26.5 L1.2,34.5" stroke="#d8d8d8" stroke-width="1.2" fill="none" stroke-linecap="round"/><path d="M0,0 C1.3,0 2.0,1.0 2.5,2.2 C3.1,3.6 4.0,4.8 4.5,6.5 C5.0,8.5 5.1,11 5.2,14 C5.3,17 5.6,20.5 5.4,23.8 C5.2,26.4 2.8,27.5 0,27.5 C-2.8,27.5 -5.2,26.4 -5.4,23.8 C-5.6,20.5 -5.3,17 -5.2,14 C-5.1,11 -5.0,8.5 -4.5,6.5 C-4.0,4.8 -3.1,3.6 -2.5,2.2 C-2.0,1.0 -1.3,0 0,0 Z" fill="url(#mg)"/><ellipse cx="0" cy="3.6" rx="2.4" ry="3.8" fill="#8a8a8a" opacity="0.2"/></g><g transform="translate(163.80,122.20) scale(0.981)" opacity="1.0"><path d="M-3.6,25.5 L-6.0,29.4 M3.6,25.5 L5.8,29.0 M0.6,26.5 L1.2,34.5" stroke="#d8d8d8" stroke-width="1.2" fill="none" stroke-linecap="round"/><path d="M0,0 C1.3,0 2.0,1.0 2.5,2.2 C3.1,3.6 4.0,4.8 4.5,6.5 C5.0,8.5 5.1,11 5.2,14 C5.3,17 5.6,20.5 5.4,23.8 C5.2,26.4 2.8,27.5 0,27.5 C-2.8,27.5 -5.2,26.4 -5.4,23.8 C-5.6,20.5 -5.3,17 -5.2,14 C-5.1,11 -5.0,8.5 -4.5,6.5 C-4.0,4.8 -3.1,3.6 -2.5,2.2 C-2.0,1.0 -1.3,0 0,0 Z" fill="url(#mg)"/><ellipse cx="0" cy="3.6" rx="2.4" ry="3.8" fill="#8a8a8a" opacity="0.2"/></g><g transform="translate(177.60,122.20) scale(0.981)" opacity="1.0"><path d="M-3.6,25.5 L-6.0,29.4 M3.6,25.5 L5.8,29.0 M0.6,26.5 L1.2,34.5" stroke="#d8d8d8" stroke-width="1.2" fill="none" stroke-linecap="round"/><path d="M0,0 C1.3,0 2.0,1.0 2.5,2.2 C3.1,3.6 4.0,4.8 4.5,6.5 C5.0,8.5 5.1,11 5.2,14 C5.3,17 5.6,20.5 5.4,23.8 C5.2,26.4 2.8,27.5 0,27.5 C-2.8,27.5 -5.2,26.4 -5.4,23.8 C-5.6,20.5 -5.3,17 -5.2,14 C-5.1,11 -5.0,8.5 -4.5,6.5 C-4.0,4.8 -3.1,3.6 -2.5,2.2 C-2.0,1.0 -1.3,0 0,0 Z" fill="url(#mg)"/><ellipse cx="0" cy="3.6" rx="2.4" ry="3.8" fill="#8a8a8a" opacity="0.2"/></g><g transform="translate(191.60,122.20) scale(0.981)" opacity="1.0"><path d="M-3.6,25.5 L-6.0,29.4 M3.6,25.5 L5.8,29.0 M0.6,26.5 L1.2,34.5" stroke="#d8d8d8" stroke-width="1.2" fill="none" stroke-linecap="round"/><path d="M0,0 C1.3,0 2.0,1.0 2.5,2.2 C3.1,3.6 4.0,4.8 4.5,6.5 C5.0,8.5 5.1,11 5.2,14 C5.3,17 5.6,20.5 5.4,23.8 C5.2,26.4 2.8,27.5 0,27.5 C-2.8,27.5 -5.2,26.4 -5.4,23.8 C-5.6,20.5 -5.3,17 -5.2,14 C-5.1,11 -5.0,8.5 -4.5,6.5 C-4.0,4.8 -3.1,3.6 -2.5,2.2 C-2.0,1.0 -1.3,0 0,0 Z" fill="url(#mg)"/><ellipse cx="0" cy="3.6" rx="2.4" ry="3.8" fill="#8a8a8a" opacity="0.2"/></g><g transform="translate(136.40,166.30) scale(0.962)" opacity="1.0"><path d="M-3.6,25.5 L-6.0,29.4 M3.6,25.5 L5.8,29.0 M0.6,26.5 L1.2,34.5" stroke="#d8d8d8" stroke-width="1.2" fill="none" stroke-linecap="round"/><path d="M0,0 C1.3,0 2.0,1.0 2.5,2.2 C3.1,3.6 4.0,4.8 4.5,6.5 C5.0,8.5 5.1,11 5.2,14 C5.3,17 5.6,20.5 5.4,23.8 C5.2,26.4 2.8,27.5 0,27.5 C-2.8,27.5 -5.2,26.4 -5.4,23.8 C-5.6,20.5 -5.3,17 -5.2,14 C-5.1,11 -5.0,8.5 -4.5,6.5 C-4.0,4.8 -3.1,3.6 -2.5,2.2 C-2.0,1.0 -1.3,0 0,0 Z" fill="url(#mg)"/><ellipse cx="0" cy="3.6" rx="2.4" ry="3.8" fill="#8a8a8a" opacity="0.2"/></g><g transform="translate(150.20,166.30) scale(0.962)" opacity="1.0"><path d="M-3.6,25.5 L-6.0,29.4 M3.6,25.5 L5.8,29.0 M0.6,26.5 L1.2,34.5" stroke="#d8d8d8" stroke-width="1.2" fill="none" stroke-linecap="round"/><path d="M0,0 C1.3,0 2.0,1.0 2.5,2.2 C3.1,3.6 4.0,4.8 4.5,6.5 C5.0,8.5 5.1,11 5.2,14 C5.3,17 5.6,20.5 5.4,23.8 C5.2,26.4 2.8,27.5 0,27.5 C-2.8,27.5 -5.2,26.4 -5.4,23.8 C-5.6,20.5 -5.3,17 -5.2,14 C-5.1,11 -5.0,8.5 -4.5,6.5 C-4.0,4.8 -3.1,3.6 -2.5,2.2 C-2.0,1.0 -1.3,0 0,0 Z" fill="url(#mg)"/><ellipse cx="0" cy="3.6" rx="2.4" ry="3.8" fill="#8a8a8a" opacity="0.2"/></g><g transform="translate(164.00,166.30) scale(0.962)" opacity="1.0"><path d="M-3.6,25.5 L-6.0,29.4 M3.6,25.5 L5.8,29.0 M0.6,26.5 L1.2,34.5" stroke="#d8d8d8" stroke-width="1.2" fill="none" stroke-linecap="round"/><path d="M0,0 C1.3,0 2.0,1.0 2.5,2.2 C3.1,3.6 4.0,4.8 4.5,6.5 C5.0,8.5 5.1,11 5.2,14 C5.3,17 5.6,20.5 5.4,23.8 C5.2,26.4 2.8,27.5 0,27.5 C-2.8,27.5 -5.2,26.4 -5.4,23.8 C-5.6,20.5 -5.3,17 -5.2,14 C-5.1,11 -5.0,8.5 -4.5,6.5 C-4.0,4.8 -3.1,3.6 -2.5,2.2 C-2.0,1.0 -1.3,0 0,0 Z" fill="url(#mg)"/><ellipse cx="0" cy="3.6" rx="2.4" ry="3.8" fill="#8a8a8a" opacity="0.2"/></g><g transform="translate(177.80,166.30) scale(0.962)" opacity="1.0"><path d="M-3.6,25.5 L-6.0,29.4 M3.6,25.5 L5.8,29.0 M0.6,26.5 L1.2,34.5" stroke="#d8d8d8" stroke-width="1.2" fill="none" stroke-linecap="round"/><path d="M0,0 C1.3,0 2.0,1.0 2.5,2.2 C3.1,3.6 4.0,4.8 4.5,6.5 C5.0,8.5 5.1,11 5.2,14 C5.3,17 5.6,20.5 5.4,23.8 C5.2,26.4 2.8,27.5 0,27.5 C-2.8,27.5 -5.2,26.4 -5.4,23.8 C-5.6,20.5 -5.3,17 -5.2,14 C-5.1,11 -5.0,8.5 -4.5,6.5 C-4.0,4.8 -3.1,3.6 -2.5,2.2 C-2.0,1.0 -1.3,0 0,0 Z" fill="url(#mg)"/><ellipse cx="0" cy="3.6" rx="2.4" ry="3.8" fill="#8a8a8a" opacity="0.2"/></g><g transform="translate(191.80,166.30) scale(0.962)" opacity="1.0"><path d="M-3.6,25.5 L-6.0,29.4 M3.6,25.5 L5.8,29.0 M0.6,26.5 L1.2,34.5" stroke="#d8d8d8" stroke-width="1.2" fill="none" stroke-linecap="round"/><path d="M0,0 C1.3,0 2.0,1.0 2.5,2.2 C3.1,3.6 4.0,4.8 4.5,6.5 C5.0,8.5 5.1,11 5.2,14 C5.3,17 5.6,20.5 5.4,23.8 C5.2,26.4 2.8,27.5 0,27.5 C-2.8,27.5 -5.2,26.4 -5.4,23.8 C-5.6,20.5 -5.3,17 -5.2,14 C-5.1,11 -5.0,8.5 -4.5,6.5 C-4.0,4.8 -3.1,3.6 -2.5,2.2 C-2.0,1.0 -1.3,0 0,0 Z" fill="url(#mg)"/><ellipse cx="0" cy="3.6" rx="2.4" ry="3.8" fill="#8a8a8a" opacity="0.2"/></g><g transform="translate(138.00,207.70) scale(0.970)" opacity="1.0"><path d="M-3.6,25.5 L-6.0,29.4 M3.6,25.5 L5.8,29.0 M0.6,26.5 L1.2,34.5" stroke="#d8d8d8" stroke-width="1.2" fill="none" stroke-linecap="round"/><path d="M0,0 C1.3,0 2.0,1.0 2.5,2.2 C3.1,3.6 4.0,4.8 4.5,6.5 C5.0,8.5 5.1,11 5.2,14 C5.3,17 5.6,20.5 5.4,23.8 C5.2,26.4 2.8,27.5 0,27.5 C-2.8,27.5 -5.2,26.4 -5.4,23.8 C-5.6,20.5 -5.3,17 -5.2,14 C-5.1,11 -5.0,8.5 -4.5,6.5 C-4.0,4.8 -3.1,3.6 -2.5,2.2 C-2.0,1.0 -1.3,0 0,0 Z" fill="url(#mg)"/><ellipse cx="0" cy="3.6" rx="2.4" ry="3.8" fill="#8a8a8a" opacity="0.2"/></g><g transform="translate(151.80,207.70) scale(0.970)" opacity="1.0"><path d="M-3.6,25.5 L-6.0,29.4 M3.6,25.5 L5.8,29.0 M0.6,26.5 L1.2,34.5" stroke="#d8d8d8" stroke-width="1.2" fill="none" stroke-linecap="round"/><path d="M0,0 C1.3,0 2.0,1.0 2.5,2.2 C3.1,3.6 4.0,4.8 4.5,6.5 C5.0,8.5 5.1,11 5.2,14 C5.3,17 5.6,20.5 5.4,23.8 C5.2,26.4 2.8,27.5 0,27.5 C-2.8,27.5 -5.2,26.4 -5.4,23.8 C-5.6,20.5 -5.3,17 -5.2,14 C-5.1,11 -5.0,8.5 -4.5,6.5 C-4.0,4.8 -3.1,3.6 -2.5,2.2 C-2.0,1.0 -1.3,0 0,0 Z" fill="url(#mg)"/><ellipse cx="0" cy="3.6" rx="2.4" ry="3.8" fill="#8a8a8a" opacity="0.2"/></g><g transform="translate(165.60,207.70) scale(0.970)" opacity="1.0"><path d="M-3.6,25.5 L-6.0,29.4 M3.6,25.5 L5.8,29.0 M0.6,26.5 L1.2,34.5" stroke="#d8d8d8" stroke-width="1.2" fill="none" stroke-linecap="round"/><path d="M0,0 C1.3,0 2.0,1.0 2.5,2.2 C3.1,3.6 4.0,4.8 4.5,6.5 C5.0,8.5 5.1,11 5.2,14 C5.3,17 5.6,20.5 5.4,23.8 C5.2,26.4 2.8,27.5 0,27.5 C-2.8,27.5 -5.2,26.4 -5.4,23.8 C-5.6,20.5 -5.3,17 -5.2,14 C-5.1,11 -5.0,8.5 -4.5,6.5 C-4.0,4.8 -3.1,3.6 -2.5,2.2 C-2.0,1.0 -1.3,0 0,0 Z" fill="url(#mg)"/><ellipse cx="0" cy="3.6" rx="2.4" ry="3.8" fill="#8a8a8a" opacity="0.2"/></g><g transform="translate(179.40,207.70) scale(0.970)" opacity="1.0"><path d="M-3.6,25.5 L-6.0,29.4 M3.6,25.5 L5.8,29.0 M0.6,26.5 L1.2,34.5" stroke="#d8d8d8" stroke-width="1.2" fill="none" stroke-linecap="round"/><path d="M0,0 C1.3,0 2.0,1.0 2.5,2.2 C3.1,3.6 4.0,4.8 4.5,6.5 C5.0,8.5 5.1,11 5.2,14 C5.3,17 5.6,20.5 5.4,23.8 C5.2,26.4 2.8,27.5 0,27.5 C-2.8,27.5 -5.2,26.4 -5.4,23.8 C-5.6,20.5 -5.3,17 -5.2,14 C-5.1,11 -5.0,8.5 -4.5,6.5 C-4.0,4.8 -3.1,3.6 -2.5,2.2 C-2.0,1.0 -1.3,0 0,0 Z" fill="url(#mg)"/><ellipse cx="0" cy="3.6" rx="2.4" ry="3.8" fill="#8a8a8a" opacity="0.2"/></g><g transform="translate(193.40,207.70) scale(0.970)" opacity="1.0"><path d="M-3.6,25.5 L-6.0,29.4 M3.6,25.5 L5.8,29.0 M0.6,26.5 L1.2,34.5" stroke="#d8d8d8" stroke-width="1.2" fill="none" stroke-linecap="round"/><path d="M0,0 C1.3,0 2.0,1.0 2.5,2.2 C3.1,3.6 4.0,4.8 4.5,6.5 C5.0,8.5 5.1,11 5.2,14 C5.3,17 5.6,20.5 5.4,23.8 C5.2,26.4 2.8,27.5 0,27.5 C-2.8,27.5 -5.2,26.4 -5.4,23.8 C-5.6,20.5 -5.3,17 -5.2,14 C-5.1,11 -5.0,8.5 -4.5,6.5 C-4.0,4.8 -3.1,3.6 -2.5,2.2 C-2.0,1.0 -1.3,0 0,0 Z" fill="url(#mg)"/><ellipse cx="0" cy="3.6" rx="2.4" ry="3.8" fill="#8a8a8a" opacity="0.2"/></g><g transform="translate(151.80,249.50) scale(1.022)" opacity="1.0"><path d="M-3.6,25.5 L-6.0,29.4 M3.6,25.5 L5.8,29.0 M0.6,26.5 L1.2,34.5" stroke="#d8d8d8" stroke-width="1.2" fill="none" stroke-linecap="round"/><path d="M0,0 C1.3,0 2.0,1.0 2.5,2.2 C3.1,3.6 4.0,4.8 4.5,6.5 C5.0,8.5 5.1,11 5.2,14 C5.3,17 5.6,20.5 5.4,23.8 C5.2,26.4 2.8,27.5 0,27.5 C-2.8,27.5 -5.2,26.4 -5.4,23.8 C-5.6,20.5 -5.3,17 -5.2,14 C-5.1,11 -5.0,8.5 -4.5,6.5 C-4.0,4.8 -3.1,3.6 -2.5,2.2 C-2.0,1.0 -1.3,0 0,0 Z" fill="url(#mg)"/><ellipse cx="0" cy="3.6" rx="2.4" ry="3.8" fill="#8a8a8a" opacity="0.2"/></g><g transform="translate(165.60,249.50) scale(1.022)" opacity="1.0"><path d="M-3.6,25.5 L-6.0,29.4 M3.6,25.5 L5.8,29.0 M0.6,26.5 L1.2,34.5" stroke="#d8d8d8" stroke-width="1.2" fill="none" stroke-linecap="round"/><path d="M0,0 C1.3,0 2.0,1.0 2.5,2.2 C3.1,3.6 4.0,4.8 4.5,6.5 C5.0,8.5 5.1,11 5.2,14 C5.3,17 5.6,20.5 5.4,23.8 C5.2,26.4 2.8,27.5 0,27.5 C-2.8,27.5 -5.2,26.4 -5.4,23.8 C-5.6,20.5 -5.3,17 -5.2,14 C-5.1,11 -5.0,8.5 -4.5,6.5 C-4.0,4.8 -3.1,3.6 -2.5,2.2 C-2.0,1.0 -1.3,0 0,0 Z" fill="url(#mg)"/><ellipse cx="0" cy="3.6" rx="2.4" ry="3.8" fill="#8a8a8a" opacity="0.2"/></g><g transform="translate(179.40,249.50) scale(1.022)" opacity="1.0"><path d="M-3.6,25.5 L-6.0,29.4 M3.6,25.5 L5.8,29.0 M0.6,26.5 L1.2,34.5" stroke="#d8d8d8" stroke-width="1.2" fill="none" stroke-linecap="round"/><path d="M0,0 C1.3,0 2.0,1.0 2.5,2.2 C3.1,3.6 4.0,4.8 4.5,6.5 C5.0,8.5 5.1,11 5.2,14 C5.3,17 5.6,20.5 5.4,23.8 C5.2,26.4 2.8,27.5 0,27.5 C-2.8,27.5 -5.2,26.4 -5.4,23.8 C-5.6,20.5 -5.3,17 -5.2,14 C-5.1,11 -5.0,8.5 -4.5,6.5 C-4.0,4.8 -3.1,3.6 -2.5,2.2 C-2.0,1.0 -1.3,0 0,0 Z" fill="url(#mg)"/><ellipse cx="0" cy="3.6" rx="2.4" ry="3.8" fill="#8a8a8a" opacity="0.2"/></g><g transform="translate(193.40,249.50) scale(1.022)" opacity="1.0"><path d="M-3.6,25.5 L-6.0,29.4 M3.6,25.5 L5.8,29.0 M0.6,26.5 L1.2,34.5" stroke="#d8d8d8" stroke-width="1.2" fill="none" stroke-linecap="round"/><path d="M0,0 C1.3,0 2.0,1.0 2.5,2.2 C3.1,3.6 4.0,4.8 4.5,6.5 C5.0,8.5 5.1,11 5.2,14 C5.3,17 5.6,20.5 5.4,23.8 C5.2,26.4 2.8,27.5 0,27.5 C-2.8,27.5 -5.2,26.4 -5.4,23.8 C-5.6,20.5 -5.3,17 -5.2,14 C-5.1,11 -5.0,8.5 -4.5,6.5 C-4.0,4.8 -3.1,3.6 -2.5,2.2 C-2.0,1.0 -1.3,0 0,0 Z" fill="url(#mg)"/><ellipse cx="0" cy="3.6" rx="2.4" ry="3.8" fill="#8a8a8a" opacity="0.2"/></g><g transform="translate(151.50,297.20) scale(0.997)" opacity="1.0"><path d="M-3.6,25.5 L-6.0,29.4 M3.6,25.5 L5.8,29.0 M0.6,26.5 L1.2,34.5" stroke="#d8d8d8" stroke-width="1.2" fill="none" stroke-linecap="round"/><path d="M0,0 C1.3,0 2.0,1.0 2.5,2.2 C3.1,3.6 4.0,4.8 4.5,6.5 C5.0,8.5 5.1,11 5.2,14 C5.3,17 5.6,20.5 5.4,23.8 C5.2,26.4 2.8,27.5 0,27.5 C-2.8,27.5 -5.2,26.4 -5.4,23.8 C-5.6,20.5 -5.3,17 -5.2,14 C-5.1,11 -5.0,8.5 -4.5,6.5 C-4.0,4.8 -3.1,3.6 -2.5,2.2 C-2.0,1.0 -1.3,0 0,0 Z" fill="url(#mg)"/><ellipse cx="0" cy="3.6" rx="2.4" ry="3.8" fill="#8a8a8a" opacity="0.2"/></g><g transform="translate(165.30,297.20) scale(0.997)" opacity="1.0"><path d="M-3.6,25.5 L-6.0,29.4 M3.6,25.5 L5.8,29.0 M0.6,26.5 L1.2,34.5" stroke="#d8d8d8" stroke-width="1.2" fill="none" stroke-linecap="round"/><path d="M0,0 C1.3,0 2.0,1.0 2.5,2.2 C3.1,3.6 4.0,4.8 4.5,6.5 C5.0,8.5 5.1,11 5.2,14 C5.3,17 5.6,20.5 5.4,23.8 C5.2,26.4 2.8,27.5 0,27.5 C-2.8,27.5 -5.2,26.4 -5.4,23.8 C-5.6,20.5 -5.3,17 -5.2,14 C-5.1,11 -5.0,8.5 -4.5,6.5 C-4.0,4.8 -3.1,3.6 -2.5,2.2 C-2.0,1.0 -1.3,0 0,0 Z" fill="url(#mg)"/><ellipse cx="0" cy="3.6" rx="2.4" ry="3.8" fill="#8a8a8a" opacity="0.2"/></g><g transform="translate(179.10,297.20) scale(0.997)" opacity="1.0"><path d="M-3.6,25.5 L-6.0,29.4 M3.6,25.5 L5.8,29.0 M0.6,26.5 L1.2,34.5" stroke="#d8d8d8" stroke-width="1.2" fill="none" stroke-linecap="round"/><path d="M0,0 C1.3,0 2.0,1.0 2.5,2.2 C3.1,3.6 4.0,4.8 4.5,6.5 C5.0,8.5 5.1,11 5.2,14 C5.3,17 5.6,20.5 5.4,23.8 C5.2,26.4 2.8,27.5 0,27.5 C-2.8,27.5 -5.2,26.4 -5.4,23.8 C-5.6,20.5 -5.3,17 -5.2,14 C-5.1,11 -5.0,8.5 -4.5,6.5 C-4.0,4.8 -3.1,3.6 -2.5,2.2 C-2.0,1.0 -1.3,0 0,0 Z" fill="url(#mg)"/><ellipse cx="0" cy="3.6" rx="2.4" ry="3.8" fill="#8a8a8a" opacity="0.2"/></g><g transform="translate(193.10,297.20) scale(0.997)" opacity="1.0"><path d="M-3.6,25.5 L-6.0,29.4 M3.6,25.5 L5.8,29.0 M0.6,26.5 L1.2,34.5" stroke="#d8d8d8" stroke-width="1.2" fill="none" stroke-linecap="round"/><path d="M0,0 C1.3,0 2.0,1.0 2.5,2.2 C3.1,3.6 4.0,4.8 4.5,6.5 C5.0,8.5 5.1,11 5.2,14 C5.3,17 5.6,20.5 5.4,23.8 C5.2,26.4 2.8,27.5 0,27.5 C-2.8,27.5 -5.2,26.4 -5.4,23.8 C-5.6,20.5 -5.3,17 -5.2,14 C-5.1,11 -5.0,8.5 -4.5,6.5 C-4.0,4.8 -3.1,3.6 -2.5,2.2 C-2.0,1.0 -1.3,0 0,0 Z" fill="url(#mg)"/><ellipse cx="0" cy="3.6" rx="2.4" ry="3.8" fill="#8a8a8a" opacity="0.2"/></g><rect x="130.30" y="339.70" width="13.70" height="35.60" rx="0" fill="#191919"/><g transform="translate(151.60,341.70) scale(0.992)" opacity="1.0"><path d="M-3.6,25.5 L-6.0,29.4 M3.6,25.5 L5.8,29.0 M0.6,26.5 L1.2,34.5" stroke="#d8d8d8" stroke-width="1.2" fill="none" stroke-linecap="round"/><path d="M0,0 C1.3,0 2.0,1.0 2.5,2.2 C3.1,3.6 4.0,4.8 4.5,6.5 C5.0,8.5 5.1,11 5.2,14 C5.3,17 5.6,20.5 5.4,23.8 C5.2,26.4 2.8,27.5 0,27.5 C-2.8,27.5 -5.2,26.4 -5.4,23.8 C-5.6,20.5 -5.3,17 -5.2,14 C-5.1,11 -5.0,8.5 -4.5,6.5 C-4.0,4.8 -3.1,3.6 -2.5,2.2 C-2.0,1.0 -1.3,0 0,0 Z" fill="url(#mg)"/><ellipse cx="0" cy="3.6" rx="2.4" ry="3.8" fill="#8a8a8a" opacity="0.2"/></g><g transform="translate(165.40,341.70) scale(0.992)" opacity="1.0"><path d="M-3.6,25.5 L-6.0,29.4 M3.6,25.5 L5.8,29.0 M0.6,26.5 L1.2,34.5" stroke="#d8d8d8" stroke-width="1.2" fill="none" stroke-linecap="round"/><path d="M0,0 C1.3,0 2.0,1.0 2.5,2.2 C3.1,3.6 4.0,4.8 4.5,6.5 C5.0,8.5 5.1,11 5.2,14 C5.3,17 5.6,20.5 5.4,23.8 C5.2,26.4 2.8,27.5 0,27.5 C-2.8,27.5 -5.2,26.4 -5.4,23.8 C-5.6,20.5 -5.3,17 -5.2,14 C-5.1,11 -5.0,8.5 -4.5,6.5 C-4.0,4.8 -3.1,3.6 -2.5,2.2 C-2.0,1.0 -1.3,0 0,0 Z" fill="url(#mg)"/><ellipse cx="0" cy="3.6" rx="2.4" ry="3.8" fill="#8a8a8a" opacity="0.2"/></g><g transform="translate(179.20,341.70) scale(0.992)" opacity="1.0"><path d="M-3.6,25.5 L-6.0,29.4 M3.6,25.5 L5.8,29.0 M0.6,26.5 L1.2,34.5" stroke="#d8d8d8" stroke-width="1.2" fill="none" stroke-linecap="round"/><path d="M0,0 C1.3,0 2.0,1.0 2.5,2.2 C3.1,3.6 4.0,4.8 4.5,6.5 C5.0,8.5 5.1,11 5.2,14 C5.3,17 5.6,20.5 5.4,23.8 C5.2,26.4 2.8,27.5 0,27.5 C-2.8,27.5 -5.2,26.4 -5.4,23.8 C-5.6,20.5 -5.3,17 -5.2,14 C-5.1,11 -5.0,8.5 -4.5,6.5 C-4.0,4.8 -3.1,3.6 -2.5,2.2 C-2.0,1.0 -1.3,0 0,0 Z" fill="url(#mg)"/><ellipse cx="0" cy="3.6" rx="2.4" ry="3.8" fill="#8a8a8a" opacity="0.2"/></g><g transform="translate(193.20,341.70) scale(0.992)" opacity="1.0"><path d="M-3.6,25.5 L-6.0,29.4 M3.6,25.5 L5.8,29.0 M0.6,26.5 L1.2,34.5" stroke="#d8d8d8" stroke-width="1.2" fill="none" stroke-linecap="round"/><path d="M0,0 C1.3,0 2.0,1.0 2.5,2.2 C3.1,3.6 4.0,4.8 4.5,6.5 C5.0,8.5 5.1,11 5.2,14 C5.3,17 5.6,20.5 5.4,23.8 C5.2,26.4 2.8,27.5 0,27.5 C-2.8,27.5 -5.2,26.4 -5.4,23.8 C-5.6,20.5 -5.3,17 -5.2,14 C-5.1,11 -5.0,8.5 -4.5,6.5 C-4.0,4.8 -3.1,3.6 -2.5,2.2 C-2.0,1.0 -1.3,0 0,0 Z" fill="url(#mg)"/><ellipse cx="0" cy="3.6" rx="2.4" ry="3.8" fill="#8a8a8a" opacity="0.2"/></g><g transform="translate(218.00,33.40) scale(1.003)" opacity="1.0"><path d="M-3.6,25.5 L-6.0,29.4 M3.6,25.5 L5.8,29.0 M0.6,26.5 L1.2,34.5" stroke="#d8d8d8" stroke-width="1.2" fill="none" stroke-linecap="round"/><path d="M0,0 C1.3,0 2.0,1.0 2.5,2.2 C3.1,3.6 4.0,4.8 4.5,6.5 C5.0,8.5 5.1,11 5.2,14 C5.3,17 5.6,20.5 5.4,23.8 C5.2,26.4 2.8,27.5 0,27.5 C-2.8,27.5 -5.2,26.4 -5.4,23.8 C-5.6,20.5 -5.3,17 -5.2,14 C-5.1,11 -5.0,8.5 -4.5,6.5 C-4.0,4.8 -3.1,3.6 -2.5,2.2 C-2.0,1.0 -1.3,0 0,0 Z" fill="url(#mg)"/><ellipse cx="0" cy="3.6" rx="2.4" ry="3.8" fill="#8a8a8a" opacity="0.2"/></g><g transform="translate(231.80,33.40) scale(1.003)" opacity="1.0"><path d="M-3.6,25.5 L-6.0,29.4 M3.6,25.5 L5.8,29.0 M0.6,26.5 L1.2,34.5" stroke="#d8d8d8" stroke-width="1.2" fill="none" stroke-linecap="round"/><path d="M0,0 C1.3,0 2.0,1.0 2.5,2.2 C3.1,3.6 4.0,4.8 4.5,6.5 C5.0,8.5 5.1,11 5.2,14 C5.3,17 5.6,20.5 5.4,23.8 C5.2,26.4 2.8,27.5 0,27.5 C-2.8,27.5 -5.2,26.4 -5.4,23.8 C-5.6,20.5 -5.3,17 -5.2,14 C-5.1,11 -5.0,8.5 -4.5,6.5 C-4.0,4.8 -3.1,3.6 -2.5,2.2 C-2.0,1.0 -1.3,0 0,0 Z" fill="url(#mg)"/><ellipse cx="0" cy="3.6" rx="2.4" ry="3.8" fill="#8a8a8a" opacity="0.2"/></g><g transform="translate(245.60,33.40) scale(1.003)" opacity="1.0"><path d="M-3.6,25.5 L-6.0,29.4 M3.6,25.5 L5.8,29.0 M0.6,26.5 L1.2,34.5" stroke="#d8d8d8" stroke-width="1.2" fill="none" stroke-linecap="round"/><path d="M0,0 C1.3,0 2.0,1.0 2.5,2.2 C3.1,3.6 4.0,4.8 4.5,6.5 C5.0,8.5 5.1,11 5.2,14 C5.3,17 5.6,20.5 5.4,23.8 C5.2,26.4 2.8,27.5 0,27.5 C-2.8,27.5 -5.2,26.4 -5.4,23.8 C-5.6,20.5 -5.3,17 -5.2,14 C-5.1,11 -5.0,8.5 -4.5,6.5 C-4.0,4.8 -3.1,3.6 -2.5,2.2 C-2.0,1.0 -1.3,0 0,0 Z" fill="url(#mg)"/><ellipse cx="0" cy="3.6" rx="2.4" ry="3.8" fill="#8a8a8a" opacity="0.2"/></g><g transform="translate(259.40,33.40) scale(1.003)" opacity="1.0"><path d="M-3.6,25.5 L-6.0,29.4 M3.6,25.5 L5.8,29.0 M0.6,26.5 L1.2,34.5" stroke="#d8d8d8" stroke-width="1.2" fill="none" stroke-linecap="round"/><path d="M0,0 C1.3,0 2.0,1.0 2.5,2.2 C3.1,3.6 4.0,4.8 4.5,6.5 C5.0,8.5 5.1,11 5.2,14 C5.3,17 5.6,20.5 5.4,23.8 C5.2,26.4 2.8,27.5 0,27.5 C-2.8,27.5 -5.2,26.4 -5.4,23.8 C-5.6,20.5 -5.3,17 -5.2,14 C-5.1,11 -5.0,8.5 -4.5,6.5 C-4.0,4.8 -3.1,3.6 -2.5,2.2 C-2.0,1.0 -1.3,0 0,0 Z" fill="url(#mg)"/><ellipse cx="0" cy="3.6" rx="2.4" ry="3.8" fill="#8a8a8a" opacity="0.2"/></g><g transform="translate(273.40,33.40) scale(1.003)" opacity="1.0"><path d="M-3.6,25.5 L-6.0,29.4 M3.6,25.5 L5.8,29.0 M0.6,26.5 L1.2,34.5" stroke="#d8d8d8" stroke-width="1.2" fill="none" stroke-linecap="round"/><path d="M0,0 C1.3,0 2.0,1.0 2.5,2.2 C3.1,3.6 4.0,4.8 4.5,6.5 C5.0,8.5 5.1,11 5.2,14 C5.3,17 5.6,20.5 5.4,23.8 C5.2,26.4 2.8,27.5 0,27.5 C-2.8,27.5 -5.2,26.4 -5.4,23.8 C-5.6,20.5 -5.3,17 -5.2,14 C-5.1,11 -5.0,8.5 -4.5,6.5 C-4.0,4.8 -3.1,3.6 -2.5,2.2 C-2.0,1.0 -1.3,0 0,0 Z" fill="url(#mg)"/><ellipse cx="0" cy="3.6" rx="2.4" ry="3.8" fill="#8a8a8a" opacity="0.2"/></g></g><g filter="url(#mblur)"><g transform="translate(219.70,76.50) scale(0.981)"><path d="M-3.6,25.5 L-6.0,29.4 M3.6,25.5 L5.8,29.0 M0.6,26.5 L1.2,34.5" stroke="#b8b0e8" stroke-width="1.0" fill="none" stroke-linecap="round"/></g><g transform="translate(219.70,76.50) scale(1.099,0.981) translate(0,15.0) scale(1.000) translate(0,-15.0)"><path d="M0,0 C1.3,0 2.0,1.0 2.5,2.2 C3.1,3.6 4.0,4.8 4.5,6.5 C5.0,8.5 5.1,11 5.2,14 C5.3,17 5.6,20.5 5.4,23.8 C5.2,26.4 2.8,27.5 0,27.5 C-2.8,27.5 -5.2,26.4 -5.4,23.8 C-5.6,20.5 -5.3,17 -5.2,14 C-5.1,11 -5.0,8.5 -4.5,6.5 C-4.0,4.8 -3.1,3.6 -2.5,2.2 C-2.0,1.0 -1.3,0 0,0 Z" fill="#1428ff"/></g><g transform="translate(233.60,76.50) scale(0.981)"><path d="M-3.6,25.5 L-6.0,29.4 M3.6,25.5 L5.8,29.0 M0.6,26.5 L1.2,34.5" stroke="#b8b0e8" stroke-width="1.0" fill="none" stroke-linecap="round"/></g><g transform="translate(233.60,76.50) scale(1.099,0.981) translate(0,15.0) scale(1.000) translate(0,-15.0)"><path d="M0,0 C1.3,0 2.0,1.0 2.5,2.2 C3.1,3.6 4.0,4.8 4.5,6.5 C5.0,8.5 5.1,11 5.2,14 C5.3,17 5.6,20.5 5.4,23.8 C5.2,26.4 2.8,27.5 0,27.5 C-2.8,27.5 -5.2,26.4 -5.4,23.8 C-5.6,20.5 -5.3,17 -5.2,14 C-5.1,11 -5.0,8.5 -4.5,6.5 C-4.0,4.8 -3.1,3.6 -2.5,2.2 C-2.0,1.0 -1.3,0 0,0 Z" fill="#1428ff"/></g><g transform="translate(246.70,76.50) scale(0.981)"><path d="M-3.6,25.5 L-6.0,29.4 M3.6,25.5 L5.8,29.0 M0.6,26.5 L1.2,34.5" stroke="#b8b0e8" stroke-width="1.0" fill="none" stroke-linecap="round"/></g><g transform="translate(246.70,76.50) scale(1.099,0.981) translate(0,15.0) scale(1.000) translate(0,-15.0)"><path d="M0,0 C1.3,0 2.0,1.0 2.5,2.2 C3.1,3.6 4.0,4.8 4.5,6.5 C5.0,8.5 5.1,11 5.2,14 C5.3,17 5.6,20.5 5.4,23.8 C5.2,26.4 2.8,27.5 0,27.5 C-2.8,27.5 -5.2,26.4 -5.4,23.8 C-5.6,20.5 -5.3,17 -5.2,14 C-5.1,11 -5.0,8.5 -4.5,6.5 C-4.0,4.8 -3.1,3.6 -2.5,2.2 C-2.0,1.0 -1.3,0 0,0 Z" fill="#1428ff"/></g><g transform="translate(259.80,76.50) scale(0.981)"><path d="M-3.6,25.5 L-6.0,29.4 M3.6,25.5 L5.8,29.0 M0.6,26.5 L1.2,34.5" stroke="#b8b0e8" stroke-width="1.0" fill="none" stroke-linecap="round"/></g><g transform="translate(259.80,76.50) scale(1.099,0.981) translate(0,15.0) scale(1.000) translate(0,-15.0)"><path d="M0,0 C1.3,0 2.0,1.0 2.5,2.2 C3.1,3.6 4.0,4.8 4.5,6.5 C5.0,8.5 5.1,11 5.2,14 C5.3,17 5.6,20.5 5.4,23.8 C5.2,26.4 2.8,27.5 0,27.5 C-2.8,27.5 -5.2,26.4 -5.4,23.8 C-5.6,20.5 -5.3,17 -5.2,14 C-5.1,11 -5.0,8.5 -4.5,6.5 C-4.0,4.8 -3.1,3.6 -2.5,2.2 C-2.0,1.0 -1.3,0 0,0 Z" fill="#1428ff"/></g><g transform="translate(272.80,76.50) scale(0.981)"><path d="M-3.6,25.5 L-6.0,29.4 M3.6,25.5 L5.8,29.0 M0.6,26.5 L1.2,34.5" stroke="#b8b0e8" stroke-width="1.0" fill="none" stroke-linecap="round"/></g><g transform="translate(272.80,76.50) scale(1.099,0.981) translate(0,15.0) scale(1.000) translate(0,-15.0)"><path d="M0,0 C1.3,0 2.0,1.0 2.5,2.2 C3.1,3.6 4.0,4.8 4.5,6.5 C5.0,8.5 5.1,11 5.2,14 C5.3,17 5.6,20.5 5.4,23.8 C5.2,26.4 2.8,27.5 0,27.5 C-2.8,27.5 -5.2,26.4 -5.4,23.8 C-5.6,20.5 -5.3,17 -5.2,14 C-5.1,11 -5.0,8.5 -4.5,6.5 C-4.0,4.8 -3.1,3.6 -2.5,2.2 C-2.0,1.0 -1.3,0 0,0 Z" fill="#1428ff"/></g><g transform="translate(218.00,117.40) scale(1.060)"><path d="M-3.6,25.5 L-6.0,29.4 M3.6,25.5 L5.8,29.0 M0.6,26.5 L1.2,34.5" stroke="#b8b0e8" stroke-width="1.0" fill="none" stroke-linecap="round"/></g><g transform="translate(218.00,117.40) scale(1.166,1.060) translate(0,15.0) scale(1.000) translate(0,-15.0)"><path d="M0,0 C1.3,0 2.0,1.0 2.5,2.2 C3.1,3.6 4.0,4.8 4.5,6.5 C5.0,8.5 5.1,11 5.2,14 C5.3,17 5.6,20.5 5.4,23.8 C5.2,26.4 2.8,27.5 0,27.5 C-2.8,27.5 -5.2,26.4 -5.4,23.8 C-5.6,20.5 -5.3,17 -5.2,14 C-5.1,11 -5.0,8.5 -4.5,6.5 C-4.0,4.8 -3.1,3.6 -2.5,2.2 C-2.0,1.0 -1.3,0 0,0 Z" fill="#1428ff"/></g><g transform="translate(218.00,117.40) scale(1.166,1.060) translate(0,15.0) scale(0.880) translate(0,-15.0)"><path d="M0,0 C1.3,0 2.0,1.0 2.5,2.2 C3.1,3.6 4.0,4.8 4.5,6.5 C5.0,8.5 5.1,11 5.2,14 C5.3,17 5.6,20.5 5.4,23.8 C5.2,26.4 2.8,27.5 0,27.5 C-2.8,27.5 -5.2,26.4 -5.4,23.8 C-5.6,20.5 -5.3,17 -5.2,14 C-5.1,11 -5.0,8.5 -4.5,6.5 C-4.0,4.8 -3.1,3.6 -2.5,2.2 C-2.0,1.0 -1.3,0 0,0 Z" fill="#00dcff"/></g><g transform="translate(218.00,117.40) scale(1.166,1.060) translate(0,15.0) scale(0.700) translate(0,-15.0)"><path d="M0,0 C1.3,0 2.0,1.0 2.5,2.2 C3.1,3.6 4.0,4.8 4.5,6.5 C5.0,8.5 5.1,11 5.2,14 C5.3,17 5.6,20.5 5.4,23.8 C5.2,26.4 2.8,27.5 0,27.5 C-2.8,27.5 -5.2,26.4 -5.4,23.8 C-5.6,20.5 -5.3,17 -5.2,14 C-5.1,11 -5.0,8.5 -4.5,6.5 C-4.0,4.8 -3.1,3.6 -2.5,2.2 C-2.0,1.0 -1.3,0 0,0 Z" fill="#3cff50"/></g><g transform="translate(231.00,117.40) scale(1.060)"><path d="M-3.6,25.5 L-6.0,29.4 M3.6,25.5 L5.8,29.0 M0.6,26.5 L1.2,34.5" stroke="#b8b0e8" stroke-width="1.0" fill="none" stroke-linecap="round"/></g><g transform="translate(231.00,117.40) scale(1.166,1.060) translate(0,15.0) scale(1.000) translate(0,-15.0)"><path d="M0,0 C1.3,0 2.0,1.0 2.5,2.2 C3.1,3.6 4.0,4.8 4.5,6.5 C5.0,8.5 5.1,11 5.2,14 C5.3,17 5.6,20.5 5.4,23.8 C5.2,26.4 2.8,27.5 0,27.5 C-2.8,27.5 -5.2,26.4 -5.4,23.8 C-5.6,20.5 -5.3,17 -5.2,14 C-5.1,11 -5.0,8.5 -4.5,6.5 C-4.0,4.8 -3.1,3.6 -2.5,2.2 C-2.0,1.0 -1.3,0 0,0 Z" fill="#1428ff"/></g><g transform="translate(231.00,117.40) scale(1.166,1.060) translate(0,15.0) scale(0.880) translate(0,-15.0)"><path d="M0,0 C1.3,0 2.0,1.0 2.5,2.2 C3.1,3.6 4.0,4.8 4.5,6.5 C5.0,8.5 5.1,11 5.2,14 C5.3,17 5.6,20.5 5.4,23.8 C5.2,26.4 2.8,27.5 0,27.5 C-2.8,27.5 -5.2,26.4 -5.4,23.8 C-5.6,20.5 -5.3,17 -5.2,14 C-5.1,11 -5.0,8.5 -4.5,6.5 C-4.0,4.8 -3.1,3.6 -2.5,2.2 C-2.0,1.0 -1.3,0 0,0 Z" fill="#00dcff"/></g><g transform="translate(231.00,117.40) scale(1.166,1.060) translate(0,15.0) scale(0.700) translate(0,-15.0)"><path d="M0,0 C1.3,0 2.0,1.0 2.5,2.2 C3.1,3.6 4.0,4.8 4.5,6.5 C5.0,8.5 5.1,11 5.2,14 C5.3,17 5.6,20.5 5.4,23.8 C5.2,26.4 2.8,27.5 0,27.5 C-2.8,27.5 -5.2,26.4 -5.4,23.8 C-5.6,20.5 -5.3,17 -5.2,14 C-5.1,11 -5.0,8.5 -4.5,6.5 C-4.0,4.8 -3.1,3.6 -2.5,2.2 C-2.0,1.0 -1.3,0 0,0 Z" fill="#3cff50"/></g><g transform="translate(244.20,117.40) scale(1.060)"><path d="M-3.6,25.5 L-6.0,29.4 M3.6,25.5 L5.8,29.0 M0.6,26.5 L1.2,34.5" stroke="#b8b0e8" stroke-width="1.0" fill="none" stroke-linecap="round"/></g><g transform="translate(244.20,117.40) scale(1.166,1.060) translate(0,15.0) scale(1.000) translate(0,-15.0)"><path d="M0,0 C1.3,0 2.0,1.0 2.5,2.2 C3.1,3.6 4.0,4.8 4.5,6.5 C5.0,8.5 5.1,11 5.2,14 C5.3,17 5.6,20.5 5.4,23.8 C5.2,26.4 2.8,27.5 0,27.5 C-2.8,27.5 -5.2,26.4 -5.4,23.8 C-5.6,20.5 -5.3,17 -5.2,14 C-5.1,11 -5.0,8.5 -4.5,6.5 C-4.0,4.8 -3.1,3.6 -2.5,2.2 C-2.0,1.0 -1.3,0 0,0 Z" fill="#1428ff"/></g><g transform="translate(244.20,117.40) scale(1.166,1.060) translate(0,15.0) scale(0.880) translate(0,-15.0)"><path d="M0,0 C1.3,0 2.0,1.0 2.5,2.2 C3.1,3.6 4.0,4.8 4.5,6.5 C5.0,8.5 5.1,11 5.2,14 C5.3,17 5.6,20.5 5.4,23.8 C5.2,26.4 2.8,27.5 0,27.5 C-2.8,27.5 -5.2,26.4 -5.4,23.8 C-5.6,20.5 -5.3,17 -5.2,14 C-5.1,11 -5.0,8.5 -4.5,6.5 C-4.0,4.8 -3.1,3.6 -2.5,2.2 C-2.0,1.0 -1.3,0 0,0 Z" fill="#00dcff"/></g><g transform="translate(244.20,117.40) scale(1.166,1.060) translate(0,15.0) scale(0.700) translate(0,-15.0)"><path d="M0,0 C1.3,0 2.0,1.0 2.5,2.2 C3.1,3.6 4.0,4.8 4.5,6.5 C5.0,8.5 5.1,11 5.2,14 C5.3,17 5.6,20.5 5.4,23.8 C5.2,26.4 2.8,27.5 0,27.5 C-2.8,27.5 -5.2,26.4 -5.4,23.8 C-5.6,20.5 -5.3,17 -5.2,14 C-5.1,11 -5.0,8.5 -4.5,6.5 C-4.0,4.8 -3.1,3.6 -2.5,2.2 C-2.0,1.0 -1.3,0 0,0 Z" fill="#3cff50"/></g><g transform="translate(257.30,117.40) scale(1.060)"><path d="M-3.6,25.5 L-6.0,29.4 M3.6,25.5 L5.8,29.0 M0.6,26.5 L1.2,34.5" stroke="#b8b0e8" stroke-width="1.0" fill="none" stroke-linecap="round"/></g><g transform="translate(257.30,117.40) scale(1.166,1.060) translate(0,15.0) scale(1.000) translate(0,-15.0)"><path d="M0,0 C1.3,0 2.0,1.0 2.5,2.2 C3.1,3.6 4.0,4.8 4.5,6.5 C5.0,8.5 5.1,11 5.2,14 C5.3,17 5.6,20.5 5.4,23.8 C5.2,26.4 2.8,27.5 0,27.5 C-2.8,27.5 -5.2,26.4 -5.4,23.8 C-5.6,20.5 -5.3,17 -5.2,14 C-5.1,11 -5.0,8.5 -4.5,6.5 C-4.0,4.8 -3.1,3.6 -2.5,2.2 C-2.0,1.0 -1.3,0 0,0 Z" fill="#1428ff"/></g><g transform="translate(257.30,117.40) scale(1.166,1.060) translate(0,15.0) scale(0.880) translate(0,-15.0)"><path d="M0,0 C1.3,0 2.0,1.0 2.5,2.2 C3.1,3.6 4.0,4.8 4.5,6.5 C5.0,8.5 5.1,11 5.2,14 C5.3,17 5.6,20.5 5.4,23.8 C5.2,26.4 2.8,27.5 0,27.5 C-2.8,27.5 -5.2,26.4 -5.4,23.8 C-5.6,20.5 -5.3,17 -5.2,14 C-5.1,11 -5.0,8.5 -4.5,6.5 C-4.0,4.8 -3.1,3.6 -2.5,2.2 C-2.0,1.0 -1.3,0 0,0 Z" fill="#00dcff"/></g><g transform="translate(257.30,117.40) scale(1.166,1.060) translate(0,15.0) scale(0.700) translate(0,-15.0)"><path d="M0,0 C1.3,0 2.0,1.0 2.5,2.2 C3.1,3.6 4.0,4.8 4.5,6.5 C5.0,8.5 5.1,11 5.2,14 C5.3,17 5.6,20.5 5.4,23.8 C5.2,26.4 2.8,27.5 0,27.5 C-2.8,27.5 -5.2,26.4 -5.4,23.8 C-5.6,20.5 -5.3,17 -5.2,14 C-5.1,11 -5.0,8.5 -4.5,6.5 C-4.0,4.8 -3.1,3.6 -2.5,2.2 C-2.0,1.0 -1.3,0 0,0 Z" fill="#3cff50"/></g><g transform="translate(271.20,117.40) scale(1.060)"><path d="M-3.6,25.5 L-6.0,29.4 M3.6,25.5 L5.8,29.0 M0.6,26.5 L1.2,34.5" stroke="#b8b0e8" stroke-width="1.0" fill="none" stroke-linecap="round"/></g><g transform="translate(271.20,117.40) scale(1.166,1.060) translate(0,15.0) scale(1.000) translate(0,-15.0)"><path d="M0,0 C1.3,0 2.0,1.0 2.5,2.2 C3.1,3.6 4.0,4.8 4.5,6.5 C5.0,8.5 5.1,11 5.2,14 C5.3,17 5.6,20.5 5.4,23.8 C5.2,26.4 2.8,27.5 0,27.5 C-2.8,27.5 -5.2,26.4 -5.4,23.8 C-5.6,20.5 -5.3,17 -5.2,14 C-5.1,11 -5.0,8.5 -4.5,6.5 C-4.0,4.8 -3.1,3.6 -2.5,2.2 C-2.0,1.0 -1.3,0 0,0 Z" fill="#1428ff"/></g><g transform="translate(271.20,117.40) scale(1.166,1.060) translate(0,15.0) scale(0.880) translate(0,-15.0)"><path d="M0,0 C1.3,0 2.0,1.0 2.5,2.2 C3.1,3.6 4.0,4.8 4.5,6.5 C5.0,8.5 5.1,11 5.2,14 C5.3,17 5.6,20.5 5.4,23.8 C5.2,26.4 2.8,27.5 0,27.5 C-2.8,27.5 -5.2,26.4 -5.4,23.8 C-5.6,20.5 -5.3,17 -5.2,14 C-5.1,11 -5.0,8.5 -4.5,6.5 C-4.0,4.8 -3.1,3.6 -2.5,2.2 C-2.0,1.0 -1.3,0 0,0 Z" fill="#00dcff"/></g><g transform="translate(271.20,117.40) scale(1.166,1.060) translate(0,15.0) scale(0.700) translate(0,-15.0)"><path d="M0,0 C1.3,0 2.0,1.0 2.5,2.2 C3.1,3.6 4.0,4.8 4.5,6.5 C5.0,8.5 5.1,11 5.2,14 C5.3,17 5.6,20.5 5.4,23.8 C5.2,26.4 2.8,27.5 0,27.5 C-2.8,27.5 -5.2,26.4 -5.4,23.8 C-5.6,20.5 -5.3,17 -5.2,14 C-5.1,11 -5.0,8.5 -4.5,6.5 C-4.0,4.8 -3.1,3.6 -2.5,2.2 C-2.0,1.0 -1.3,0 0,0 Z" fill="#3cff50"/></g><g transform="translate(220.50,165.00) scale(0.984)"><path d="M-3.6,25.5 L-6.0,29.4 M3.6,25.5 L5.8,29.0 M0.6,26.5 L1.2,34.5" stroke="#b8b0e8" stroke-width="1.0" fill="none" stroke-linecap="round"/></g><g transform="translate(220.50,165.00) scale(1.200,0.984) translate(0,15.0) scale(1.000) translate(0,-15.0)"><path d="M0,0 C1.3,0 2.0,1.0 2.5,2.2 C3.1,3.6 4.0,4.8 4.5,6.5 C5.0,8.5 5.1,11 5.2,14 C5.3,17 5.6,20.5 5.4,23.8 C5.2,26.4 2.8,27.5 0,27.5 C-2.8,27.5 -5.2,26.4 -5.4,23.8 C-5.6,20.5 -5.3,17 -5.2,14 C-5.1,11 -5.0,8.5 -4.5,6.5 C-4.0,4.8 -3.1,3.6 -2.5,2.2 C-2.0,1.0 -1.3,0 0,0 Z" fill="#1428ff"/></g><g transform="translate(220.50,165.00) scale(1.200,0.984) translate(0,15.0) scale(0.950) translate(0,-15.0)"><path d="M0,0 C1.3,0 2.0,1.0 2.5,2.2 C3.1,3.6 4.0,4.8 4.5,6.5 C5.0,8.5 5.1,11 5.2,14 C5.3,17 5.6,20.5 5.4,23.8 C5.2,26.4 2.8,27.5 0,27.5 C-2.8,27.5 -5.2,26.4 -5.4,23.8 C-5.6,20.5 -5.3,17 -5.2,14 C-5.1,11 -5.0,8.5 -4.5,6.5 C-4.0,4.8 -3.1,3.6 -2.5,2.2 C-2.0,1.0 -1.3,0 0,0 Z" fill="#00dcff"/></g><g transform="translate(220.50,165.00) scale(1.200,0.984) translate(0,15.0) scale(0.920) translate(0,-15.0)"><path d="M0,0 C1.3,0 2.0,1.0 2.5,2.2 C3.1,3.6 4.0,4.8 4.5,6.5 C5.0,8.5 5.1,11 5.2,14 C5.3,17 5.6,20.5 5.4,23.8 C5.2,26.4 2.8,27.5 0,27.5 C-2.8,27.5 -5.2,26.4 -5.4,23.8 C-5.6,20.5 -5.3,17 -5.2,14 C-5.1,11 -5.0,8.5 -4.5,6.5 C-4.0,4.8 -3.1,3.6 -2.5,2.2 C-2.0,1.0 -1.3,0 0,0 Z" fill="#3cff50"/></g><g transform="translate(220.50,165.00) scale(1.200,0.984) translate(0,15.0) scale(0.890) translate(0,-15.0)"><path d="M0,0 C1.3,0 2.0,1.0 2.5,2.2 C3.1,3.6 4.0,4.8 4.5,6.5 C5.0,8.5 5.1,11 5.2,14 C5.3,17 5.6,20.5 5.4,23.8 C5.2,26.4 2.8,27.5 0,27.5 C-2.8,27.5 -5.2,26.4 -5.4,23.8 C-5.6,20.5 -5.3,17 -5.2,14 C-5.1,11 -5.0,8.5 -4.5,6.5 C-4.0,4.8 -3.1,3.6 -2.5,2.2 C-2.0,1.0 -1.3,0 0,0 Z" fill="#ffff14"/></g><g transform="translate(220.50,165.00) scale(1.200,0.984) translate(0,15.0) scale(0.850) translate(0,-15.0)"><path d="M0,0 C1.3,0 2.0,1.0 2.5,2.2 C3.1,3.6 4.0,4.8 4.5,6.5 C5.0,8.5 5.1,11 5.2,14 C5.3,17 5.6,20.5 5.4,23.8 C5.2,26.4 2.8,27.5 0,27.5 C-2.8,27.5 -5.2,26.4 -5.4,23.8 C-5.6,20.5 -5.3,17 -5.2,14 C-5.1,11 -5.0,8.5 -4.5,6.5 C-4.0,4.8 -3.1,3.6 -2.5,2.2 C-2.0,1.0 -1.3,0 0,0 Z" fill="#ff1010"/></g><g transform="translate(233.60,165.00) scale(0.984)"><path d="M-3.6,25.5 L-6.0,29.4 M3.6,25.5 L5.8,29.0 M0.6,26.5 L1.2,34.5" stroke="#b8b0e8" stroke-width="1.0" fill="none" stroke-linecap="round"/></g><g transform="translate(233.60,165.00) scale(1.200,0.984) translate(0,15.0) scale(1.000) translate(0,-15.0)"><path d="M0,0 C1.3,0 2.0,1.0 2.5,2.2 C3.1,3.6 4.0,4.8 4.5,6.5 C5.0,8.5 5.1,11 5.2,14 C5.3,17 5.6,20.5 5.4,23.8 C5.2,26.4 2.8,27.5 0,27.5 C-2.8,27.5 -5.2,26.4 -5.4,23.8 C-5.6,20.5 -5.3,17 -5.2,14 C-5.1,11 -5.0,8.5 -4.5,6.5 C-4.0,4.8 -3.1,3.6 -2.5,2.2 C-2.0,1.0 -1.3,0 0,0 Z" fill="#1428ff"/></g><g transform="translate(233.60,165.00) scale(1.200,0.984) translate(0,15.0) scale(0.950) translate(0,-15.0)"><path d="M0,0 C1.3,0 2.0,1.0 2.5,2.2 C3.1,3.6 4.0,4.8 4.5,6.5 C5.0,8.5 5.1,11 5.2,14 C5.3,17 5.6,20.5 5.4,23.8 C5.2,26.4 2.8,27.5 0,27.5 C-2.8,27.5 -5.2,26.4 -5.4,23.8 C-5.6,20.5 -5.3,17 -5.2,14 C-5.1,11 -5.0,8.5 -4.5,6.5 C-4.0,4.8 -3.1,3.6 -2.5,2.2 C-2.0,1.0 -1.3,0 0,0 Z" fill="#00dcff"/></g><g transform="translate(233.60,165.00) scale(1.200,0.984) translate(0,15.0) scale(0.920) translate(0,-15.0)"><path d="M0,0 C1.3,0 2.0,1.0 2.5,2.2 C3.1,3.6 4.0,4.8 4.5,6.5 C5.0,8.5 5.1,11 5.2,14 C5.3,17 5.6,20.5 5.4,23.8 C5.2,26.4 2.8,27.5 0,27.5 C-2.8,27.5 -5.2,26.4 -5.4,23.8 C-5.6,20.5 -5.3,17 -5.2,14 C-5.1,11 -5.0,8.5 -4.5,6.5 C-4.0,4.8 -3.1,3.6 -2.5,2.2 C-2.0,1.0 -1.3,0 0,0 Z" fill="#3cff50"/></g><g transform="translate(233.60,165.00) scale(1.200,0.984) translate(0,15.0) scale(0.890) translate(0,-15.0)"><path d="M0,0 C1.3,0 2.0,1.0 2.5,2.2 C3.1,3.6 4.0,4.8 4.5,6.5 C5.0,8.5 5.1,11 5.2,14 C5.3,17 5.6,20.5 5.4,23.8 C5.2,26.4 2.8,27.5 0,27.5 C-2.8,27.5 -5.2,26.4 -5.4,23.8 C-5.6,20.5 -5.3,17 -5.2,14 C-5.1,11 -5.0,8.5 -4.5,6.5 C-4.0,4.8 -3.1,3.6 -2.5,2.2 C-2.0,1.0 -1.3,0 0,0 Z" fill="#ffff14"/></g><g transform="translate(233.60,165.00) scale(1.200,0.984) translate(0,15.0) scale(0.850) translate(0,-15.0)"><path d="M0,0 C1.3,0 2.0,1.0 2.5,2.2 C3.1,3.6 4.0,4.8 4.5,6.5 C5.0,8.5 5.1,11 5.2,14 C5.3,17 5.6,20.5 5.4,23.8 C5.2,26.4 2.8,27.5 0,27.5 C-2.8,27.5 -5.2,26.4 -5.4,23.8 C-5.6,20.5 -5.3,17 -5.2,14 C-5.1,11 -5.0,8.5 -4.5,6.5 C-4.0,4.8 -3.1,3.6 -2.5,2.2 C-2.0,1.0 -1.3,0 0,0 Z" fill="#ff1010"/></g><g transform="translate(247.00,165.00) scale(0.984)"><path d="M-3.6,25.5 L-6.0,29.4 M3.6,25.5 L5.8,29.0 M0.6,26.5 L1.2,34.5" stroke="#b8b0e8" stroke-width="1.0" fill="none" stroke-linecap="round"/></g><g transform="translate(247.00,165.00) scale(1.200,0.984) translate(0,15.0) scale(1.000) translate(0,-15.0)"><path d="M0,0 C1.3,0 2.0,1.0 2.5,2.2 C3.1,3.6 4.0,4.8 4.5,6.5 C5.0,8.5 5.1,11 5.2,14 C5.3,17 5.6,20.5 5.4,23.8 C5.2,26.4 2.8,27.5 0,27.5 C-2.8,27.5 -5.2,26.4 -5.4,23.8 C-5.6,20.5 -5.3,17 -5.2,14 C-5.1,11 -5.0,8.5 -4.5,6.5 C-4.0,4.8 -3.1,3.6 -2.5,2.2 C-2.0,1.0 -1.3,0 0,0 Z" fill="#1428ff"/></g><g transform="translate(247.00,165.00) scale(1.200,0.984) translate(0,15.0) scale(0.950) translate(0,-15.0)"><path d="M0,0 C1.3,0 2.0,1.0 2.5,2.2 C3.1,3.6 4.0,4.8 4.5,6.5 C5.0,8.5 5.1,11 5.2,14 C5.3,17 5.6,20.5 5.4,23.8 C5.2,26.4 2.8,27.5 0,27.5 C-2.8,27.5 -5.2,26.4 -5.4,23.8 C-5.6,20.5 -5.3,17 -5.2,14 C-5.1,11 -5.0,8.5 -4.5,6.5 C-4.0,4.8 -3.1,3.6 -2.5,2.2 C-2.0,1.0 -1.3,0 0,0 Z" fill="#00dcff"/></g><g transform="translate(247.00,165.00) scale(1.200,0.984) translate(0,15.0) scale(0.920) translate(0,-15.0)"><path d="M0,0 C1.3,0 2.0,1.0 2.5,2.2 C3.1,3.6 4.0,4.8 4.5,6.5 C5.0,8.5 5.1,11 5.2,14 C5.3,17 5.6,20.5 5.4,23.8 C5.2,26.4 2.8,27.5 0,27.5 C-2.8,27.5 -5.2,26.4 -5.4,23.8 C-5.6,20.5 -5.3,17 -5.2,14 C-5.1,11 -5.0,8.5 -4.5,6.5 C-4.0,4.8 -3.1,3.6 -2.5,2.2 C-2.0,1.0 -1.3,0 0,0 Z" fill="#3cff50"/></g><g transform="translate(247.00,165.00) scale(1.200,0.984) translate(0,15.0) scale(0.890) translate(0,-15.0)"><path d="M0,0 C1.3,0 2.0,1.0 2.5,2.2 C3.1,3.6 4.0,4.8 4.5,6.5 C5.0,8.5 5.1,11 5.2,14 C5.3,17 5.6,20.5 5.4,23.8 C5.2,26.4 2.8,27.5 0,27.5 C-2.8,27.5 -5.2,26.4 -5.4,23.8 C-5.6,20.5 -5.3,17 -5.2,14 C-5.1,11 -5.0,8.5 -4.5,6.5 C-4.0,4.8 -3.1,3.6 -2.5,2.2 C-2.0,1.0 -1.3,0 0,0 Z" fill="#ffff14"/></g><g transform="translate(247.00,165.00) scale(1.200,0.984) translate(0,15.0) scale(0.850) translate(0,-15.0)"><path d="M0,0 C1.3,0 2.0,1.0 2.5,2.2 C3.1,3.6 4.0,4.8 4.5,6.5 C5.0,8.5 5.1,11 5.2,14 C5.3,17 5.6,20.5 5.4,23.8 C5.2,26.4 2.8,27.5 0,27.5 C-2.8,27.5 -5.2,26.4 -5.4,23.8 C-5.6,20.5 -5.3,17 -5.2,14 C-5.1,11 -5.0,8.5 -4.5,6.5 C-4.0,4.8 -3.1,3.6 -2.5,2.2 C-2.0,1.0 -1.3,0 0,0 Z" fill="#ff1010"/></g><g transform="translate(275.00,165.00) scale(0.984)"><path d="M-3.6,25.5 L-6.0,29.4 M3.6,25.5 L5.8,29.0 M0.6,26.5 L1.2,34.5" stroke="#b8b0e8" stroke-width="1.0" fill="none" stroke-linecap="round"/></g><g transform="translate(275.00,165.00) scale(1.200,0.984) translate(0,15.0) scale(1.000) translate(0,-15.0)"><path d="M0,0 C1.3,0 2.0,1.0 2.5,2.2 C3.1,3.6 4.0,4.8 4.5,6.5 C5.0,8.5 5.1,11 5.2,14 C5.3,17 5.6,20.5 5.4,23.8 C5.2,26.4 2.8,27.5 0,27.5 C-2.8,27.5 -5.2,26.4 -5.4,23.8 C-5.6,20.5 -5.3,17 -5.2,14 C-5.1,11 -5.0,8.5 -4.5,6.5 C-4.0,4.8 -3.1,3.6 -2.5,2.2 C-2.0,1.0 -1.3,0 0,0 Z" fill="#1428ff"/></g><g transform="translate(275.00,165.00) scale(1.200,0.984) translate(0,15.0) scale(0.950) translate(0,-15.0)"><path d="M0,0 C1.3,0 2.0,1.0 2.5,2.2 C3.1,3.6 4.0,4.8 4.5,6.5 C5.0,8.5 5.1,11 5.2,14 C5.3,17 5.6,20.5 5.4,23.8 C5.2,26.4 2.8,27.5 0,27.5 C-2.8,27.5 -5.2,26.4 -5.4,23.8 C-5.6,20.5 -5.3,17 -5.2,14 C-5.1,11 -5.0,8.5 -4.5,6.5 C-4.0,4.8 -3.1,3.6 -2.5,2.2 C-2.0,1.0 -1.3,0 0,0 Z" fill="#00dcff"/></g><g transform="translate(275.00,165.00) scale(1.200,0.984) translate(0,15.0) scale(0.920) translate(0,-15.0)"><path d="M0,0 C1.3,0 2.0,1.0 2.5,2.2 C3.1,3.6 4.0,4.8 4.5,6.5 C5.0,8.5 5.1,11 5.2,14 C5.3,17 5.6,20.5 5.4,23.8 C5.2,26.4 2.8,27.5 0,27.5 C-2.8,27.5 -5.2,26.4 -5.4,23.8 C-5.6,20.5 -5.3,17 -5.2,14 C-5.1,11 -5.0,8.5 -4.5,6.5 C-4.0,4.8 -3.1,3.6 -2.5,2.2 C-2.0,1.0 -1.3,0 0,0 Z" fill="#3cff50"/></g><g transform="translate(275.00,165.00) scale(1.200,0.984) translate(0,15.0) scale(0.890) translate(0,-15.0)"><path d="M0,0 C1.3,0 2.0,1.0 2.5,2.2 C3.1,3.6 4.0,4.8 4.5,6.5 C5.0,8.5 5.1,11 5.2,14 C5.3,17 5.6,20.5 5.4,23.8 C5.2,26.4 2.8,27.5 0,27.5 C-2.8,27.5 -5.2,26.4 -5.4,23.8 C-5.6,20.5 -5.3,17 -5.2,14 C-5.1,11 -5.0,8.5 -4.5,6.5 C-4.0,4.8 -3.1,3.6 -2.5,2.2 C-2.0,1.0 -1.3,0 0,0 Z" fill="#ffff14"/></g><g transform="translate(275.00,165.00) scale(1.200,0.984) translate(0,15.0) scale(0.850) translate(0,-15.0)"><path d="M0,0 C1.3,0 2.0,1.0 2.5,2.2 C3.1,3.6 4.0,4.8 4.5,6.5 C5.0,8.5 5.1,11 5.2,14 C5.3,17 5.6,20.5 5.4,23.8 C5.2,26.4 2.8,27.5 0,27.5 C-2.8,27.5 -5.2,26.4 -5.4,23.8 C-5.6,20.5 -5.3,17 -5.2,14 C-5.1,11 -5.0,8.5 -4.5,6.5 C-4.0,4.8 -3.1,3.6 -2.5,2.2 C-2.0,1.0 -1.3,0 0,0 Z" fill="#ff1010"/></g><g transform="translate(261.40,165.00) scale(0.984)"><path d="M-3.6,25.5 L-6.0,29.4 M3.6,25.5 L5.8,29.0 M0.6,26.5 L1.2,34.5" stroke="#b8b0e8" stroke-width="1.0" fill="none" stroke-linecap="round"/></g><g transform="translate(261.40,165.00) scale(1.180,0.984) translate(0,15.0) scale(1.000) translate(0,-15.0)"><path d="M0,0 C1.3,0 2.0,1.0 2.5,2.2 C3.1,3.6 4.0,4.8 4.5,6.5 C5.0,8.5 5.1,11 5.2,14 C5.3,17 5.6,20.5 5.4,23.8 C5.2,26.4 2.8,27.5 0,27.5 C-2.8,27.5 -5.2,26.4 -5.4,23.8 C-5.6,20.5 -5.3,17 -5.2,14 C-5.1,11 -5.0,8.5 -4.5,6.5 C-4.0,4.8 -3.1,3.6 -2.5,2.2 C-2.0,1.0 -1.3,0 0,0 Z" fill="#1428ff"/></g><g transform="translate(261.40,165.00) scale(1.180,0.984) translate(0,15.0) scale(0.900) translate(0,-15.0)"><path d="M0,0 C1.3,0 2.0,1.0 2.5,2.2 C3.1,3.6 4.0,4.8 4.5,6.5 C5.0,8.5 5.1,11 5.2,14 C5.3,17 5.6,20.5 5.4,23.8 C5.2,26.4 2.8,27.5 0,27.5 C-2.8,27.5 -5.2,26.4 -5.4,23.8 C-5.6,20.5 -5.3,17 -5.2,14 C-5.1,11 -5.0,8.5 -4.5,6.5 C-4.0,4.8 -3.1,3.6 -2.5,2.2 C-2.0,1.0 -1.3,0 0,0 Z" fill="#00dcff"/></g><g transform="translate(261.40,165.00) scale(1.180,0.984) translate(0,15.0) scale(0.720) translate(0,-15.0)"><path d="M0,0 C1.3,0 2.0,1.0 2.5,2.2 C3.1,3.6 4.0,4.8 4.5,6.5 C5.0,8.5 5.1,11 5.2,14 C5.3,17 5.6,20.5 5.4,23.8 C5.2,26.4 2.8,27.5 0,27.5 C-2.8,27.5 -5.2,26.4 -5.4,23.8 C-5.6,20.5 -5.3,17 -5.2,14 C-5.1,11 -5.0,8.5 -4.5,6.5 C-4.0,4.8 -3.1,3.6 -2.5,2.2 C-2.0,1.0 -1.3,0 0,0 Z" fill="#3cff50"/></g><g transform="translate(53.90,249.90) scale(1.027)"><path d="M-3.6,25.5 L-6.0,29.4 M3.6,25.5 L5.8,29.0 M0.6,26.5 L1.2,34.5" stroke="#b8b0e8" stroke-width="1.0" fill="none" stroke-linecap="round"/></g><g transform="translate(53.90,249.90) scale(1.079,1.027) translate(0,15.0) scale(1.000) translate(0,-15.0)"><path d="M0,0 C1.3,0 2.0,1.0 2.5,2.2 C3.1,3.6 4.0,4.8 4.5,6.5 C5.0,8.5 5.1,11 5.2,14 C5.3,17 5.6,20.5 5.4,23.8 C5.2,26.4 2.8,27.5 0,27.5 C-2.8,27.5 -5.2,26.4 -5.4,23.8 C-5.6,20.5 -5.3,17 -5.2,14 C-5.1,11 -5.0,8.5 -4.5,6.5 C-4.0,4.8 -3.1,3.6 -2.5,2.2 C-2.0,1.0 -1.3,0 0,0 Z" fill="#f4eefa"/></g><g transform="translate(67.80,249.90) scale(1.027)"><path d="M-3.6,25.5 L-6.0,29.4 M3.6,25.5 L5.8,29.0 M0.6,26.5 L1.2,34.5" stroke="#b8b0e8" stroke-width="1.0" fill="none" stroke-linecap="round"/></g><g transform="translate(67.80,249.90) scale(1.130,1.027) translate(0,15.0) scale(1.000) translate(0,-15.0)"><path d="M0,0 C1.3,0 2.0,1.0 2.5,2.2 C3.1,3.6 4.0,4.8 4.5,6.5 C5.0,8.5 5.1,11 5.2,14 C5.3,17 5.6,20.5 5.4,23.8 C5.2,26.4 2.8,27.5 0,27.5 C-2.8,27.5 -5.2,26.4 -5.4,23.8 C-5.6,20.5 -5.3,17 -5.2,14 C-5.1,11 -5.0,8.5 -4.5,6.5 C-4.0,4.8 -3.1,3.6 -2.5,2.2 C-2.0,1.0 -1.3,0 0,0 Z" fill="#1428ff"/></g><g transform="translate(67.80,249.90) scale(1.130,1.027) translate(0,15.0) scale(0.840) translate(0,-15.0)"><path d="M0,0 C1.3,0 2.0,1.0 2.5,2.2 C3.1,3.6 4.0,4.8 4.5,6.5 C5.0,8.5 5.1,11 5.2,14 C5.3,17 5.6,20.5 5.4,23.8 C5.2,26.4 2.8,27.5 0,27.5 C-2.8,27.5 -5.2,26.4 -5.4,23.8 C-5.6,20.5 -5.3,17 -5.2,14 C-5.1,11 -5.0,8.5 -4.5,6.5 C-4.0,4.8 -3.1,3.6 -2.5,2.2 C-2.0,1.0 -1.3,0 0,0 Z" fill="#f4eefa"/></g><g transform="translate(81.70,249.90) scale(1.027)"><path d="M-3.6,25.5 L-6.0,29.4 M3.6,25.5 L5.8,29.0 M0.6,26.5 L1.2,34.5" stroke="#b8b0e8" stroke-width="1.0" fill="none" stroke-linecap="round"/></g><g transform="translate(81.70,249.90) scale(1.182,1.027) translate(0,15.0) scale(1.000) translate(0,-15.0)"><path d="M0,0 C1.3,0 2.0,1.0 2.5,2.2 C3.1,3.6 4.0,4.8 4.5,6.5 C5.0,8.5 5.1,11 5.2,14 C5.3,17 5.6,20.5 5.4,23.8 C5.2,26.4 2.8,27.5 0,27.5 C-2.8,27.5 -5.2,26.4 -5.4,23.8 C-5.6,20.5 -5.3,17 -5.2,14 C-5.1,11 -5.0,8.5 -4.5,6.5 C-4.0,4.8 -3.1,3.6 -2.5,2.2 C-2.0,1.0 -1.3,0 0,0 Z" fill="#1428ff"/></g><g transform="translate(81.70,249.90) scale(1.182,1.027) translate(0,15.0) scale(0.800) translate(0,-15.0)"><path d="M0,0 C1.3,0 2.0,1.0 2.5,2.2 C3.1,3.6 4.0,4.8 4.5,6.5 C5.0,8.5 5.1,11 5.2,14 C5.3,17 5.6,20.5 5.4,23.8 C5.2,26.4 2.8,27.5 0,27.5 C-2.8,27.5 -5.2,26.4 -5.4,23.8 C-5.6,20.5 -5.3,17 -5.2,14 C-5.1,11 -5.0,8.5 -4.5,6.5 C-4.0,4.8 -3.1,3.6 -2.5,2.2 C-2.0,1.0 -1.3,0 0,0 Z" fill="#00dcff"/></g><g transform="translate(81.70,249.90) scale(1.182,1.027) translate(0,15.0) scale(0.600) translate(0,-15.0)"><path d="M0,0 C1.3,0 2.0,1.0 2.5,2.2 C3.1,3.6 4.0,4.8 4.5,6.5 C5.0,8.5 5.1,11 5.2,14 C5.3,17 5.6,20.5 5.4,23.8 C5.2,26.4 2.8,27.5 0,27.5 C-2.8,27.5 -5.2,26.4 -5.4,23.8 C-5.6,20.5 -5.3,17 -5.2,14 C-5.1,11 -5.0,8.5 -4.5,6.5 C-4.0,4.8 -3.1,3.6 -2.5,2.2 C-2.0,1.0 -1.3,0 0,0 Z" fill="#3cff50"/></g><g transform="translate(95.60,249.90) scale(1.027)"><path d="M-3.6,25.5 L-6.0,29.4 M3.6,25.5 L5.8,29.0 M0.6,26.5 L1.2,34.5" stroke="#b8b0e8" stroke-width="1.0" fill="none" stroke-linecap="round"/></g><g transform="translate(95.60,249.90) scale(1.233,1.027) translate(0,15.0) scale(1.000) translate(0,-15.0)"><path d="M0,0 C1.3,0 2.0,1.0 2.5,2.2 C3.1,3.6 4.0,4.8 4.5,6.5 C5.0,8.5 5.1,11 5.2,14 C5.3,17 5.6,20.5 5.4,23.8 C5.2,26.4 2.8,27.5 0,27.5 C-2.8,27.5 -5.2,26.4 -5.4,23.8 C-5.6,20.5 -5.3,17 -5.2,14 C-5.1,11 -5.0,8.5 -4.5,6.5 C-4.0,4.8 -3.1,3.6 -2.5,2.2 C-2.0,1.0 -1.3,0 0,0 Z" fill="#1428ff"/></g><g transform="translate(95.60,249.90) scale(1.233,1.027) translate(0,15.0) scale(0.850) translate(0,-15.0)"><path d="M0,0 C1.3,0 2.0,1.0 2.5,2.2 C3.1,3.6 4.0,4.8 4.5,6.5 C5.0,8.5 5.1,11 5.2,14 C5.3,17 5.6,20.5 5.4,23.8 C5.2,26.4 2.8,27.5 0,27.5 C-2.8,27.5 -5.2,26.4 -5.4,23.8 C-5.6,20.5 -5.3,17 -5.2,14 C-5.1,11 -5.0,8.5 -4.5,6.5 C-4.0,4.8 -3.1,3.6 -2.5,2.2 C-2.0,1.0 -1.3,0 0,0 Z" fill="#00dcff"/></g><g transform="translate(109.50,249.90) scale(1.027)"><path d="M-3.6,25.5 L-6.0,29.4 M3.6,25.5 L5.8,29.0 M0.6,26.5 L1.2,34.5" stroke="#b8b0e8" stroke-width="1.0" fill="none" stroke-linecap="round"/></g><g transform="translate(109.50,249.90) scale(1.079,1.027) translate(0,15.0) scale(1.000) translate(0,-15.0)"><path d="M0,0 C1.3,0 2.0,1.0 2.5,2.2 C3.1,3.6 4.0,4.8 4.5,6.5 C5.0,8.5 5.1,11 5.2,14 C5.3,17 5.6,20.5 5.4,23.8 C5.2,26.4 2.8,27.5 0,27.5 C-2.8,27.5 -5.2,26.4 -5.4,23.8 C-5.6,20.5 -5.3,17 -5.2,14 C-5.1,11 -5.0,8.5 -4.5,6.5 C-4.0,4.8 -3.1,3.6 -2.5,2.2 C-2.0,1.0 -1.3,0 0,0 Z" fill="#f4eefa"/></g><g transform="translate(53.90,297.50) scale(1.014)"><path d="M-3.6,25.5 L-6.0,29.4 M3.6,25.5 L5.8,29.0 M0.6,26.5 L1.2,34.5" stroke="#b8b0e8" stroke-width="1.0" fill="none" stroke-linecap="round"/></g><g transform="translate(53.90,297.50) scale(1.115,1.014) translate(0,15.0) scale(1.000) translate(0,-15.0)"><path d="M0,0 C1.3,0 2.0,1.0 2.5,2.2 C3.1,3.6 4.0,4.8 4.5,6.5 C5.0,8.5 5.1,11 5.2,14 C5.3,17 5.6,20.5 5.4,23.8 C5.2,26.4 2.8,27.5 0,27.5 C-2.8,27.5 -5.2,26.4 -5.4,23.8 C-5.6,20.5 -5.3,17 -5.2,14 C-5.1,11 -5.0,8.5 -4.5,6.5 C-4.0,4.8 -3.1,3.6 -2.5,2.2 C-2.0,1.0 -1.3,0 0,0 Z" fill="#1428ff"/></g><g transform="translate(53.90,297.50) scale(1.115,1.014) translate(0,15.0) scale(0.800) translate(0,-15.0)"><path d="M0,0 C1.3,0 2.0,1.0 2.5,2.2 C3.1,3.6 4.0,4.8 4.5,6.5 C5.0,8.5 5.1,11 5.2,14 C5.3,17 5.6,20.5 5.4,23.8 C5.2,26.4 2.8,27.5 0,27.5 C-2.8,27.5 -5.2,26.4 -5.4,23.8 C-5.6,20.5 -5.3,17 -5.2,14 C-5.1,11 -5.0,8.5 -4.5,6.5 C-4.0,4.8 -3.1,3.6 -2.5,2.2 C-2.0,1.0 -1.3,0 0,0 Z" fill="#00dcff"/></g><g transform="translate(53.90,297.50) scale(1.115,1.014) translate(0,15.0) scale(0.620) translate(0,-15.0)"><path d="M0,0 C1.3,0 2.0,1.0 2.5,2.2 C3.1,3.6 4.0,4.8 4.5,6.5 C5.0,8.5 5.1,11 5.2,14 C5.3,17 5.6,20.5 5.4,23.8 C5.2,26.4 2.8,27.5 0,27.5 C-2.8,27.5 -5.2,26.4 -5.4,23.8 C-5.6,20.5 -5.3,17 -5.2,14 C-5.1,11 -5.0,8.5 -4.5,6.5 C-4.0,4.8 -3.1,3.6 -2.5,2.2 C-2.0,1.0 -1.3,0 0,0 Z" fill="#3cff50"/></g><g transform="translate(67.80,297.50) scale(1.014)"><path d="M-3.6,25.5 L-6.0,29.4 M3.6,25.5 L5.8,29.0 M0.6,26.5 L1.2,34.5" stroke="#b8b0e8" stroke-width="1.0" fill="none" stroke-linecap="round"/></g><g transform="translate(67.80,297.50) scale(1.064,1.014) translate(0,15.0) scale(1.000) translate(0,-15.0)"><path d="M0,0 C1.3,0 2.0,1.0 2.5,2.2 C3.1,3.6 4.0,4.8 4.5,6.5 C5.0,8.5 5.1,11 5.2,14 C5.3,17 5.6,20.5 5.4,23.8 C5.2,26.4 2.8,27.5 0,27.5 C-2.8,27.5 -5.2,26.4 -5.4,23.8 C-5.6,20.5 -5.3,17 -5.2,14 C-5.1,11 -5.0,8.5 -4.5,6.5 C-4.0,4.8 -3.1,3.6 -2.5,2.2 C-2.0,1.0 -1.3,0 0,0 Z" fill="#f4eefa"/></g><g transform="translate(67.80,297.50) scale(1.064,1.014) translate(0,15.0) scale(0.800) translate(0,-15.0)"><path d="M0,0 C1.3,0 2.0,1.0 2.5,2.2 C3.1,3.6 4.0,4.8 4.5,6.5 C5.0,8.5 5.1,11 5.2,14 C5.3,17 5.6,20.5 5.4,23.8 C5.2,26.4 2.8,27.5 0,27.5 C-2.8,27.5 -5.2,26.4 -5.4,23.8 C-5.6,20.5 -5.3,17 -5.2,14 C-5.1,11 -5.0,8.5 -4.5,6.5 C-4.0,4.8 -3.1,3.6 -2.5,2.2 C-2.0,1.0 -1.3,0 0,0 Z" fill="#c8b4ff"/></g><g transform="translate(110.30,297.50) scale(1.014)"><path d="M-3.6,25.5 L-6.0,29.4 M3.6,25.5 L5.8,29.0 M0.6,26.5 L1.2,34.5" stroke="#b8b0e8" stroke-width="1.0" fill="none" stroke-linecap="round"/></g><g transform="translate(110.30,297.50) scale(1.166,1.014) translate(0,15.0) scale(1.000) translate(0,-15.0)"><path d="M0,0 C1.3,0 2.0,1.0 2.5,2.2 C3.1,3.6 4.0,4.8 4.5,6.5 C5.0,8.5 5.1,11 5.2,14 C5.3,17 5.6,20.5 5.4,23.8 C5.2,26.4 2.8,27.5 0,27.5 C-2.8,27.5 -5.2,26.4 -5.4,23.8 C-5.6,20.5 -5.3,17 -5.2,14 C-5.1,11 -5.0,8.5 -4.5,6.5 C-4.0,4.8 -3.1,3.6 -2.5,2.2 C-2.0,1.0 -1.3,0 0,0 Z" fill="#1428ff"/></g><g transform="translate(110.30,297.50) scale(1.166,1.014) translate(0,15.0) scale(0.800) translate(0,-15.0)"><path d="M0,0 C1.3,0 2.0,1.0 2.5,2.2 C3.1,3.6 4.0,4.8 4.5,6.5 C5.0,8.5 5.1,11 5.2,14 C5.3,17 5.6,20.5 5.4,23.8 C5.2,26.4 2.8,27.5 0,27.5 C-2.8,27.5 -5.2,26.4 -5.4,23.8 C-5.6,20.5 -5.3,17 -5.2,14 C-5.1,11 -5.0,8.5 -4.5,6.5 C-4.0,4.8 -3.1,3.6 -2.5,2.2 C-2.0,1.0 -1.3,0 0,0 Z" fill="#00dcff"/></g><g transform="translate(138.10,249.80) scale(1.022)"><path d="M-3.6,25.5 L-6.0,29.4 M3.6,25.5 L5.8,29.0 M0.6,26.5 L1.2,34.5" stroke="#b8b0e8" stroke-width="1.0" fill="none" stroke-linecap="round"/></g><g transform="translate(138.10,249.80) scale(1.175,1.022) translate(0,15.0) scale(1.000) translate(0,-15.0)"><path d="M0,0 C1.3,0 2.0,1.0 2.5,2.2 C3.1,3.6 4.0,4.8 4.5,6.5 C5.0,8.5 5.1,11 5.2,14 C5.3,17 5.6,20.5 5.4,23.8 C5.2,26.4 2.8,27.5 0,27.5 C-2.8,27.5 -5.2,26.4 -5.4,23.8 C-5.6,20.5 -5.3,17 -5.2,14 C-5.1,11 -5.0,8.5 -4.5,6.5 C-4.0,4.8 -3.1,3.6 -2.5,2.2 C-2.0,1.0 -1.3,0 0,0 Z" fill="#1428ff"/></g><g transform="translate(138.10,249.80) scale(1.175,1.022) translate(0,15.0) scale(0.800) translate(0,-15.0)"><path d="M0,0 C1.3,0 2.0,1.0 2.5,2.2 C3.1,3.6 4.0,4.8 4.5,6.5 C5.0,8.5 5.1,11 5.2,14 C5.3,17 5.6,20.5 5.4,23.8 C5.2,26.4 2.8,27.5 0,27.5 C-2.8,27.5 -5.2,26.4 -5.4,23.8 C-5.6,20.5 -5.3,17 -5.2,14 C-5.1,11 -5.0,8.5 -4.5,6.5 C-4.0,4.8 -3.1,3.6 -2.5,2.2 C-2.0,1.0 -1.3,0 0,0 Z" fill="#f4eefa"/></g><g transform="translate(138.90,297.90) scale(0.997)"><path d="M-3.6,25.5 L-6.0,29.4 M3.6,25.5 L5.8,29.0 M0.6,26.5 L1.2,34.5" stroke="#b8b0e8" stroke-width="1.0" fill="none" stroke-linecap="round"/></g><g transform="translate(138.90,297.90) scale(1.097,0.997) translate(0,15.0) scale(1.000) translate(0,-15.0)"><path d="M0,0 C1.3,0 2.0,1.0 2.5,2.2 C3.1,3.6 4.0,4.8 4.5,6.5 C5.0,8.5 5.1,11 5.2,14 C5.3,17 5.6,20.5 5.4,23.8 C5.2,26.4 2.8,27.5 0,27.5 C-2.8,27.5 -5.2,26.4 -5.4,23.8 C-5.6,20.5 -5.3,17 -5.2,14 C-5.1,11 -5.0,8.5 -4.5,6.5 C-4.0,4.8 -3.1,3.6 -2.5,2.2 C-2.0,1.0 -1.3,0 0,0 Z" fill="#1428ff"/></g><g transform="translate(138.90,297.90) scale(1.097,0.997) translate(0,15.0) scale(0.820) translate(0,-15.0)"><path d="M0,0 C1.3,0 2.0,1.0 2.5,2.2 C3.1,3.6 4.0,4.8 4.5,6.5 C5.0,8.5 5.1,11 5.2,14 C5.3,17 5.6,20.5 5.4,23.8 C5.2,26.4 2.8,27.5 0,27.5 C-2.8,27.5 -5.2,26.4 -5.4,23.8 C-5.6,20.5 -5.3,17 -5.2,14 C-5.1,11 -5.0,8.5 -4.5,6.5 C-4.0,4.8 -3.1,3.6 -2.5,2.2 C-2.0,1.0 -1.3,0 0,0 Z" fill="#00dcff"/></g></g><g filter="url(#hblur)"><ellipse cx="219.70" cy="78.50" rx="1.40" ry="2.00" fill="#c8b4ff"/><ellipse cx="219.30" cy="87.20" rx="4.00" ry="4.60" fill="#00dcff"/><ellipse cx="219.30" cy="87.20" rx="2.80" ry="3.22" fill="#3cff50"/><ellipse cx="218.90" cy="86.60" rx="1.00" ry="1.40" fill="#ffff14"/><ellipse cx="219.70" cy="101.00" rx="4.60" ry="3.00" fill="#00dcff"/><ellipse cx="219.70" cy="94.20" rx="4.30" ry="1.80" fill="#f4eefa" transform="rotate(-12 219.70 94.20)"/><ellipse cx="233.60" cy="78.50" rx="1.40" ry="2.00" fill="#c8b4ff"/><ellipse cx="233.20" cy="87.20" rx="4.00" ry="4.60" fill="#00dcff"/><ellipse cx="233.20" cy="87.20" rx="2.80" ry="3.22" fill="#3cff50"/><ellipse cx="232.80" cy="86.60" rx="1.00" ry="1.40" fill="#ffff14"/><ellipse cx="233.60" cy="101.00" rx="4.60" ry="3.00" fill="#00dcff"/><ellipse cx="233.60" cy="94.20" rx="4.30" ry="1.80" fill="#f4eefa" transform="rotate(-12 233.60 94.20)"/><ellipse cx="246.70" cy="78.50" rx="1.40" ry="2.00" fill="#c8b4ff"/><ellipse cx="246.30" cy="87.20" rx="4.00" ry="4.60" fill="#00dcff"/><ellipse cx="246.30" cy="87.20" rx="2.80" ry="3.22" fill="#3cff50"/><ellipse cx="245.90" cy="86.60" rx="1.00" ry="1.40" fill="#ffff14"/><ellipse cx="246.70" cy="101.00" rx="4.60" ry="3.00" fill="#00dcff"/><ellipse cx="246.70" cy="94.20" rx="4.30" ry="1.80" fill="#f4eefa" transform="rotate(-12 246.70 94.20)"/><ellipse cx="259.80" cy="78.50" rx="1.40" ry="2.00" fill="#c8b4ff"/><ellipse cx="259.40" cy="87.20" rx="4.00" ry="4.60" fill="#00dcff"/><ellipse cx="259.40" cy="87.20" rx="2.80" ry="3.22" fill="#3cff50"/><ellipse cx="259.00" cy="86.60" rx="1.00" ry="1.40" fill="#ffff14"/><ellipse cx="259.80" cy="101.00" rx="4.60" ry="3.00" fill="#00dcff"/><ellipse cx="259.80" cy="94.20" rx="4.30" ry="1.80" fill="#f4eefa" transform="rotate(-12 259.80 94.20)"/><ellipse cx="272.80" cy="78.50" rx="1.40" ry="2.00" fill="#c8b4ff"/><ellipse cx="272.40" cy="87.20" rx="4.00" ry="4.60" fill="#00dcff"/><ellipse cx="272.40" cy="87.20" rx="2.80" ry="3.22" fill="#3cff50"/><ellipse cx="272.00" cy="86.60" rx="1.00" ry="1.40" fill="#ffff14"/><ellipse cx="272.80" cy="101.00" rx="4.60" ry="3.00" fill="#00dcff"/><ellipse cx="272.80" cy="94.20" rx="4.30" ry="1.80" fill="#f4eefa" transform="rotate(-12 272.80 94.20)"/><ellipse cx="215.40" cy="98.80" rx="2.60" ry="2.30" fill="#ff1010"/><ellipse cx="215.40" cy="98.80" rx="1.82" ry="1.61" fill="#ff1010"/><ellipse cx="224.40" cy="100.00" rx="2.60" ry="2.30" fill="#ff1010"/><ellipse cx="224.40" cy="100.00" rx="1.82" ry="1.61" fill="#ff1010"/><ellipse cx="229.00" cy="99.40" rx="2.60" ry="2.30" fill="#ff1010"/><ellipse cx="229.00" cy="99.40" rx="1.82" ry="1.61" fill="#ff1010"/><ellipse cx="239.30" cy="100.00" rx="2.60" ry="2.30" fill="#ff1010"/><ellipse cx="239.30" cy="100.00" rx="1.82" ry="1.61" fill="#ff1010"/><ellipse cx="242.60" cy="99.60" rx="2.60" ry="2.30" fill="#ff1010"/><ellipse cx="242.60" cy="99.60" rx="1.82" ry="1.61" fill="#ff1010"/><ellipse cx="252.40" cy="99.80" rx="2.60" ry="2.30" fill="#ff1010"/><ellipse cx="252.40" cy="99.80" rx="1.82" ry="1.61" fill="#ff1010"/><ellipse cx="256.30" cy="99.40" rx="2.60" ry="2.30" fill="#ff1010"/><ellipse cx="256.30" cy="99.40" rx="1.82" ry="1.61" fill="#ff1010"/><ellipse cx="266.80" cy="99.80" rx="2.60" ry="2.30" fill="#ff1010"/><ellipse cx="266.80" cy="99.80" rx="1.82" ry="1.61" fill="#ff1010"/><ellipse cx="270.30" cy="100.00" rx="2.60" ry="2.30" fill="#ff1010"/><ellipse cx="270.30" cy="100.00" rx="1.82" ry="1.61" fill="#ff1010"/><ellipse cx="278.60" cy="99.60" rx="2.60" ry="2.30" fill="#ff1010"/><ellipse cx="278.60" cy="99.60" rx="1.82" ry="1.61" fill="#ff1010"/><ellipse cx="218.00" cy="119.00" rx="1.50" ry="1.80" fill="#1428ff"/><ellipse cx="231.00" cy="119.00" rx="1.50" ry="1.80" fill="#1428ff"/><ellipse cx="244.20" cy="119.00" rx="1.50" ry="1.80" fill="#1428ff"/><ellipse cx="257.30" cy="119.00" rx="1.50" ry="1.80" fill="#1428ff"/><ellipse cx="271.20" cy="119.00" rx="1.50" ry="1.80" fill="#1428ff"/><ellipse cx="218.80" cy="140.00" rx="3.80" ry="2.20" fill="#1428ff"/><ellipse cx="231.50" cy="141.00" rx="3.60" ry="2.00" fill="#1428ff"/><ellipse cx="244.50" cy="141.00" rx="3.80" ry="2.20" fill="#1428ff"/><ellipse cx="257.00" cy="141.00" rx="3.60" ry="2.00" fill="#1428ff"/><ellipse cx="270.50" cy="139.00" rx="4.00" ry="2.00" fill="#1428ff"/><ellipse cx="215.00" cy="131.00" rx="1.60" ry="2.40" fill="#00dcff"/><ellipse cx="229.00" cy="129.00" rx="1.40" ry="2.00" fill="#00dcff"/><ellipse cx="246.00" cy="128.00" rx="1.80" ry="2.60" fill="#00dcff"/><ellipse cx="259.00" cy="130.00" rx="1.60" ry="2.40" fill="#00dcff"/><ellipse cx="243.00" cy="124.00" rx="1.20" ry="1.40" fill="#1428ff"/><ellipse cx="256.00" cy="125.00" rx="1.20" ry="1.40" fill="#1428ff"/><ellipse cx="216.60" cy="125.50" rx="1.40" ry="1.60" fill="#ffff14"/><ellipse cx="221.30" cy="138.90" rx="2.80" ry="4.00" fill="#ffff14"/><ellipse cx="221.30" cy="138.90" rx="2.24" ry="3.20" fill="#ff1010"/><ellipse cx="221.30" cy="138.90" rx="1.68" ry="2.40" fill="#ff1010"/><ellipse cx="213.20" cy="140.40" rx="1.90" ry="1.90" fill="#ff1010"/><ellipse cx="233.90" cy="135.20" rx="2.40" ry="3.00" fill="#ffff14"/><ellipse cx="233.90" cy="135.20" rx="1.68" ry="2.10" fill="#ff1010"/><ellipse cx="226.50" cy="139.70" rx="1.80" ry="2.00" fill="#ff1010"/><ellipse cx="239.10" cy="140.40" rx="2.00" ry="2.00" fill="#ffff14"/><ellipse cx="239.10" cy="140.40" rx="1.40" ry="1.40" fill="#ff1010"/><ellipse cx="241.30" cy="136.50" rx="3.00" ry="0.90" fill="#f4eefa" transform="rotate(-20 241.30 136.50)"/><ellipse cx="248.00" cy="139.70" rx="1.80" ry="2.80" fill="#ff1010"/><ellipse cx="255.00" cy="136.50" rx="3.00" ry="0.90" fill="#f4eefa" transform="rotate(-20 255.00 136.50)"/><ellipse cx="252.40" cy="139.70" rx="1.80" ry="1.80" fill="#ff1010"/><ellipse cx="263.60" cy="140.40" rx="1.80" ry="2.00" fill="#ff1010"/><ellipse cx="271.60" cy="130.50" rx="3.40" ry="5.00" fill="#ffff14"/><ellipse cx="271.60" cy="130.50" rx="2.38" ry="3.50" fill="#ff1010"/><ellipse cx="269.50" cy="144.90" rx="2.60" ry="2.20" fill="#ffff14"/><ellipse cx="269.50" cy="144.90" rx="1.82" ry="1.54" fill="#ff1010"/><ellipse cx="276.10" cy="141.90" rx="2.60" ry="2.20" fill="#ffff14"/><ellipse cx="276.10" cy="141.90" rx="1.82" ry="1.54" fill="#ff1010"/><ellipse cx="215.50" cy="186.00" rx="2.80" ry="3.50" fill="#ff1010"/><ellipse cx="226.00" cy="186.50" rx="2.60" ry="3.00" fill="#ff1010"/><ellipse cx="229.00" cy="185.00" rx="2.40" ry="3.20" fill="#ff1010"/><ellipse cx="239.00" cy="186.00" rx="2.40" ry="3.00" fill="#ff1010"/><ellipse cx="242.50" cy="187.00" rx="2.40" ry="3.00" fill="#ff1010"/><ellipse cx="252.00" cy="186.00" rx="2.40" ry="3.00" fill="#ff1010"/><ellipse cx="270.00" cy="187.00" rx="2.40" ry="3.00" fill="#ff1010"/><ellipse cx="280.00" cy="186.00" rx="2.20" ry="3.00" fill="#ff1010"/><ellipse cx="216.50" cy="176.00" rx="2.00" ry="2.60" fill="#ff1010"/><ellipse cx="224.50" cy="178.00" rx="1.80" ry="2.60" fill="#ff1010"/><ellipse cx="229.50" cy="175.00" rx="1.80" ry="2.40" fill="#ff1010"/><ellipse cx="238.00" cy="178.00" rx="1.80" ry="2.60" fill="#ff1010"/><ellipse cx="243.50" cy="177.00" rx="1.80" ry="2.40" fill="#ff1010"/><ellipse cx="251.00" cy="178.00" rx="1.80" ry="2.60" fill="#ff1010"/><ellipse cx="271.00" cy="178.00" rx="1.80" ry="2.40" fill="#ff1010"/><ellipse cx="279.00" cy="177.00" rx="1.60" ry="2.40" fill="#ff1010"/><ellipse cx="220.50" cy="166.80" rx="1.40" ry="1.60" fill="#00dcff"/><ellipse cx="233.60" cy="166.50" rx="1.40" ry="1.60" fill="#00dcff"/><ellipse cx="247.00" cy="166.80" rx="1.40" ry="1.60" fill="#00dcff"/><ellipse cx="275.00" cy="167.00" rx="1.40" ry="1.60" fill="#00dcff"/><ellipse cx="221.00" cy="175.00" rx="1.30" ry="1.30" fill="#ffff14"/><ellipse cx="233.00" cy="172.00" rx="1.20" ry="1.20" fill="#ffff14"/><ellipse cx="248.00" cy="176.00" rx="1.30" ry="1.30" fill="#3cff50"/><ellipse cx="261.40" cy="166.80" rx="1.60" ry="1.80" fill="#1428ff"/><ellipse cx="261.40" cy="177.00" rx="1.60" ry="2.20" fill="#ffff14"/><ellipse cx="261.40" cy="177.00" rx="1.12" ry="1.54" fill="#ff1010"/><ellipse cx="265.00" cy="187.40" rx="2.60" ry="3.00" fill="#ffff14"/><ellipse cx="265.00" cy="187.40" rx="1.82" ry="2.10" fill="#ff1010"/><ellipse cx="258.50" cy="186.00" rx="1.80" ry="1.80" fill="#ffff14"/><ellipse cx="52.80" cy="270.50" rx="6.60" ry="7.60" fill="#1428ff"/><ellipse cx="52.80" cy="270.50" rx="5.81" ry="6.69" fill="#00dcff"/><ellipse cx="52.80" cy="270.50" rx="5.02" ry="5.78" fill="#3cff50"/><ellipse cx="52.80" cy="270.50" rx="4.22" ry="4.86" fill="#ff1010"/><ellipse cx="52.80" cy="270.50" rx="3.43" ry="3.95" fill="#ff1010"/><ellipse cx="53.50" cy="261.00" rx="5.00" ry="1.60" fill="#1428ff"/><ellipse cx="67.80" cy="253.00" rx="2.40" ry="3.60" fill="#00dcff"/><ellipse cx="67.80" cy="253.00" rx="1.68" ry="2.52" fill="#3cff50"/><ellipse cx="66.00" cy="262.00" rx="2.00" ry="1.60" fill="#1428ff"/><ellipse cx="70.50" cy="264.00" rx="1.80" ry="1.50" fill="#1428ff"/><ellipse cx="65.50" cy="271.00" rx="2.60" ry="2.40" fill="#1428ff"/><ellipse cx="65.50" cy="271.00" rx="2.08" ry="1.92" fill="#00dcff"/><ellipse cx="65.50" cy="271.00" rx="1.56" ry="1.44" fill="#3cff50"/><ellipse cx="70.50" cy="270.00" rx="2.40" ry="2.60" fill="#1428ff"/><ellipse cx="70.50" cy="270.00" rx="1.68" ry="1.82" fill="#00dcff"/><ellipse cx="68.00" cy="276.50" rx="3.00" ry="1.60" fill="#1428ff"/><ellipse cx="82.30" cy="253.50" rx="2.60" ry="3.00" fill="#ffff14"/><ellipse cx="82.30" cy="253.50" rx="1.82" ry="2.10" fill="#ff1010"/><ellipse cx="81.70" cy="271.00" rx="6.20" ry="5.60" fill="#ffff14"/><ellipse cx="81.70" cy="271.00" rx="4.96" ry="4.48" fill="#ff1010"/><ellipse cx="81.70" cy="271.00" rx="3.72" ry="3.36" fill="#ff1010"/><ellipse cx="95.60" cy="257.20" rx="2.60" ry="2.00" fill="#ff1010"/><ellipse cx="96.30" cy="272.30" rx="7.40" ry="8.40" fill="#1428ff"/><ellipse cx="96.30" cy="272.30" rx="6.66" ry="7.56" fill="#00dcff"/><ellipse cx="96.30" cy="272.30" rx="5.92" ry="6.72" fill="#3cff50"/><ellipse cx="96.30" cy="272.30" rx="5.18" ry="5.88" fill="#ffff14"/><ellipse cx="96.30" cy="272.30" rx="4.44" ry="5.04" fill="#ff1010"/><ellipse cx="96.30" cy="272.30" rx="3.70" ry="4.20" fill="#ff1010"/><ellipse cx="108.50" cy="258.00" rx="2.40" ry="2.40" fill="#c8b4ff"/><ellipse cx="108.50" cy="258.00" rx="1.68" ry="1.68" fill="#1428ff"/><ellipse cx="111.50" cy="270.00" rx="4.20" ry="5.00" fill="#1428ff"/><ellipse cx="111.50" cy="270.00" rx="3.57" ry="4.25" fill="#00dcff"/><ellipse cx="111.50" cy="270.00" rx="2.94" ry="3.50" fill="#ff1010"/><ellipse cx="111.50" cy="270.00" rx="2.31" ry="2.75" fill="#ff1010"/><ellipse cx="106.00" cy="264.00" rx="1.80" ry="2.50" fill="#c8b4ff"/><ellipse cx="106.00" cy="264.00" rx="1.26" ry="1.75" fill="#1428ff"/><ellipse cx="54.20" cy="317.40" rx="5.60" ry="6.40" fill="#ffff14"/><ellipse cx="54.20" cy="317.40" rx="4.48" ry="5.12" fill="#ff1010"/><ellipse cx="54.20" cy="317.40" rx="3.36" ry="3.84" fill="#ff1010"/><ellipse cx="67.80" cy="300.50" rx="2.40" ry="2.60" fill="#1428ff"/><ellipse cx="67.00" cy="309.00" rx="3.50" ry="2.00" fill="#1428ff"/><ellipse cx="67.00" cy="309.00" rx="2.45" ry="1.40" fill="#5a14e6"/><ellipse cx="67.00" cy="316.60" rx="3.40" ry="2.60" fill="#1428ff"/><ellipse cx="67.00" cy="316.60" rx="2.38" ry="1.82" fill="#00dcff"/><ellipse cx="109.50" cy="302.70" rx="2.60" ry="2.40" fill="#00dcff"/><ellipse cx="109.50" cy="302.70" rx="1.82" ry="1.68" fill="#3cff50"/><ellipse cx="110.30" cy="316.80" rx="6.60" ry="6.60" fill="#ffff14"/><ellipse cx="110.30" cy="316.80" rx="5.28" ry="5.28" fill="#ff1010"/><ellipse cx="110.30" cy="316.80" rx="3.96" ry="3.96" fill="#ff1010"/><ellipse cx="139.50" cy="253.00" rx="3.00" ry="2.20" fill="#1428ff"/><ellipse cx="139.50" cy="253.00" rx="2.10" ry="1.54" fill="#5a14e6"/><ellipse cx="137.00" cy="260.00" rx="2.40" ry="1.60" fill="#f4eefa"/><ellipse cx="135.60" cy="268.50" rx="4.40" ry="4.60" fill="#1428ff"/><ellipse cx="135.60" cy="268.50" rx="3.87" ry="4.05" fill="#00dcff"/><ellipse cx="135.60" cy="268.50" rx="3.34" ry="3.50" fill="#3cff50"/><ellipse cx="135.60" cy="268.50" rx="2.82" ry="2.94" fill="#ffff14"/><ellipse cx="135.60" cy="268.50" rx="2.29" ry="2.39" fill="#ff1010"/><ellipse cx="137.30" cy="275.00" rx="3.60" ry="2.40" fill="#1428ff"/><ellipse cx="137.30" cy="275.00" rx="2.52" ry="1.68" fill="#1428ff"/><ellipse cx="139.70" cy="300.50" rx="2.40" ry="2.40" fill="#3cff50"/><ellipse cx="138.10" cy="315.50" rx="5.20" ry="6.40" fill="#ff1010"/><ellipse cx="138.10" cy="315.50" rx="3.64" ry="4.48" fill="#ff1010"/><ellipse cx="51.50" cy="139.80" rx="3.80" ry="2.20" fill="#c8b4ff"/><ellipse cx="51.50" cy="139.80" rx="2.66" ry="1.54" fill="#5a14e6"/><ellipse cx="80.90" cy="122.80" rx="2.20" ry="2.00" fill="#c8b4ff"/><ellipse cx="80.90" cy="122.80" rx="1.76" ry="1.60" fill="#1428ff"/><ellipse cx="80.90" cy="122.80" rx="1.32" ry="1.20" fill="#00dcff"/><ellipse cx="79.20" cy="141.60" rx="4.20" ry="2.40" fill="#c8b4ff"/><ellipse cx="79.20" cy="141.60" rx="2.94" ry="1.68" fill="#5a14e6"/><ellipse cx="85.00" cy="136.50" rx="3.00" ry="2.60" fill="#c8b4ff"/><ellipse cx="85.00" cy="136.50" rx="2.55" ry="2.21" fill="#1428ff"/><ellipse cx="85.00" cy="136.50" rx="2.10" ry="1.82" fill="#1428ff"/><ellipse cx="85.00" cy="136.50" rx="1.65" ry="1.43" fill="#00dcff"/><ellipse cx="96.40" cy="142.20" rx="4.60" ry="3.60" fill="#c8b4ff"/><ellipse cx="96.40" cy="142.20" rx="3.91" ry="3.06" fill="#1428ff"/><ellipse cx="96.40" cy="142.20" rx="3.22" ry="2.52" fill="#1428ff"/><ellipse cx="96.40" cy="142.20" rx="2.53" ry="1.98" fill="#00dcff"/><ellipse cx="113.40" cy="138.50" rx="2.50" ry="3.20" fill="#c8b4ff"/><ellipse cx="113.40" cy="138.50" rx="2.12" ry="2.72" fill="#1428ff"/><ellipse cx="113.40" cy="138.50" rx="1.75" ry="2.24" fill="#1428ff"/><ellipse cx="113.40" cy="138.50" rx="1.38" ry="1.76" fill="#00dcff"/><ellipse cx="134.00" cy="141.40" rx="4.80" ry="4.40" fill="#c8b4ff"/><ellipse cx="134.00" cy="141.40" rx="4.32" ry="3.96" fill="#1428ff"/><ellipse cx="134.00" cy="141.40" rx="3.84" ry="3.52" fill="#00dcff"/><ellipse cx="134.00" cy="141.40" rx="3.36" ry="3.08" fill="#3cff50"/><ellipse cx="134.00" cy="141.40" rx="2.88" ry="2.64" fill="#ffff14"/><ellipse cx="134.00" cy="141.40" rx="2.40" ry="2.20" fill="#ff1010"/><ellipse cx="137.50" cy="130.00" rx="2.50" ry="2.50" fill="#c8b4ff"/><ellipse cx="166.70" cy="139.80" rx="4.40" ry="4.00" fill="#c8b4ff"/><ellipse cx="166.70" cy="139.80" rx="3.87" ry="3.52" fill="#1428ff"/><ellipse cx="166.70" cy="139.80" rx="3.34" ry="3.04" fill="#00dcff"/><ellipse cx="166.70" cy="139.80" rx="2.82" ry="2.56" fill="#ffff14"/><ellipse cx="166.70" cy="139.80" rx="2.29" ry="2.08" fill="#ff1010"/><ellipse cx="178.10" cy="125.90" rx="3.20" ry="1.80" fill="#c8b4ff"/><ellipse cx="178.10" cy="125.90" rx="2.56" ry="1.44" fill="#1428ff"/><ellipse cx="178.10" cy="125.90" rx="1.92" ry="1.08" fill="#00dcff"/><ellipse cx="173.20" cy="140.60" rx="2.40" ry="3.00" fill="#c8b4ff"/><ellipse cx="173.20" cy="140.60" rx="1.68" ry="2.10" fill="#5a14e6"/><ellipse cx="186.50" cy="142.00" rx="1.30" ry="1.30" fill="#5a14e6"/><ellipse cx="196.00" cy="140.50" rx="1.30" ry="1.30" fill="#5a14e6"/><ellipse cx="50.60" cy="186.00" rx="4.20" ry="4.20" fill="#c8b4ff"/><ellipse cx="50.60" cy="186.00" rx="3.57" ry="3.57" fill="#1428ff"/><ellipse cx="50.60" cy="186.00" rx="2.94" ry="2.94" fill="#1428ff"/><ellipse cx="50.60" cy="186.00" rx="2.31" ry="2.31" fill="#3cff50"/><ellipse cx="59.60" cy="181.20" rx="1.60" ry="2.20" fill="#1428ff"/><ellipse cx="66.20" cy="184.40" rx="2.20" ry="2.00" fill="#c8b4ff"/><ellipse cx="66.20" cy="184.40" rx="1.54" ry="1.40" fill="#1428ff"/><ellipse cx="83.30" cy="168.90" rx="2.80" ry="2.00" fill="#c8b4ff"/><ellipse cx="83.30" cy="168.90" rx="2.24" ry="1.60" fill="#1428ff"/><ellipse cx="83.30" cy="168.90" rx="1.68" ry="1.20" fill="#1428ff"/><ellipse cx="79.20" cy="184.80" rx="3.20" ry="2.60" fill="#c8b4ff"/><ellipse cx="79.20" cy="184.80" rx="2.56" ry="2.08" fill="#1428ff"/><ellipse cx="79.20" cy="184.80" rx="1.92" ry="1.56" fill="#5a14e6"/><ellipse cx="85.80" cy="182.00" rx="3.00" ry="2.60" fill="#c8b4ff"/><ellipse cx="85.80" cy="182.00" rx="2.55" ry="2.21" fill="#1428ff"/><ellipse cx="85.80" cy="182.00" rx="2.10" ry="1.82" fill="#1428ff"/><ellipse cx="85.80" cy="182.00" rx="1.65" ry="1.43" fill="#00dcff"/><ellipse cx="96.40" cy="169.70" rx="2.40" ry="1.80" fill="#c8b4ff"/><ellipse cx="96.40" cy="169.70" rx="1.68" ry="1.26" fill="#1428ff"/><ellipse cx="97.20" cy="187.70" rx="5.00" ry="4.80" fill="#c8b4ff"/><ellipse cx="97.20" cy="187.70" rx="4.25" ry="4.08" fill="#1428ff"/><ellipse cx="97.20" cy="187.70" rx="3.50" ry="3.36" fill="#1428ff"/><ellipse cx="97.20" cy="187.70" rx="2.75" ry="2.64" fill="#3cff50"/><ellipse cx="112.70" cy="185.20" rx="2.50" ry="3.30" fill="#c8b4ff"/><ellipse cx="112.70" cy="185.20" rx="2.12" ry="2.80" fill="#1428ff"/><ellipse cx="112.70" cy="185.20" rx="1.75" ry="2.31" fill="#1428ff"/><ellipse cx="112.70" cy="185.20" rx="1.38" ry="1.81" fill="#00dcff"/><ellipse cx="133.20" cy="185.20" rx="3.60" ry="3.60" fill="#c8b4ff"/><ellipse cx="133.20" cy="185.20" rx="3.06" ry="3.06" fill="#1428ff"/><ellipse cx="133.20" cy="185.20" rx="2.52" ry="2.52" fill="#1428ff"/><ellipse cx="133.20" cy="185.20" rx="1.98" ry="1.98" fill="#00dcff"/><ellipse cx="169.10" cy="185.20" rx="2.20" ry="2.20" fill="#c8b4ff"/><ellipse cx="169.10" cy="185.20" rx="1.54" ry="1.54" fill="#1428ff"/><ellipse cx="178.90" cy="171.30" rx="3.00" ry="1.80" fill="#c8b4ff"/><ellipse cx="178.90" cy="171.30" rx="2.10" ry="1.26" fill="#1428ff"/><ellipse cx="174.90" cy="184.40" rx="3.70" ry="3.50" fill="#c8b4ff"/><ellipse cx="174.90" cy="184.40" rx="2.96" ry="2.80" fill="#1428ff"/><ellipse cx="174.90" cy="184.40" rx="2.22" ry="2.10" fill="#1428ff"/><ellipse cx="187.50" cy="186.00" rx="1.20" ry="1.20" fill="#1428ff"/><ellipse cx="53.70" cy="216.70" rx="1.40" ry="1.40" fill="#5a14e6"/><ellipse cx="51.50" cy="229.00" rx="4.00" ry="4.00" fill="#c8b4ff"/><ellipse cx="51.50" cy="229.00" rx="2.80" ry="2.80" fill="#5a14e6"/><ellipse cx="58.00" cy="225.40" rx="2.80" ry="3.20" fill="#c8b4ff"/><ellipse cx="58.00" cy="225.40" rx="1.96" ry="2.24" fill="#5a14e6"/><ellipse cx="67.40" cy="211.00" rx="3.40" ry="3.00" fill="#c8b4ff"/><ellipse cx="67.40" cy="211.00" rx="2.38" ry="2.10" fill="#5a14e6"/><ellipse cx="64.50" cy="226.80" rx="1.80" ry="1.80" fill="#c8b4ff"/><ellipse cx="64.50" cy="226.80" rx="1.26" ry="1.26" fill="#5a14e6"/><ellipse cx="81.80" cy="212.40" rx="4.00" ry="3.80" fill="#c8b4ff"/><ellipse cx="81.80" cy="212.40" rx="2.80" ry="2.66" fill="#5a14e6"/><ellipse cx="81.80" cy="229.50" rx="6.60" ry="5.60" fill="#c8b4ff"/><ellipse cx="81.80" cy="229.50" rx="4.62" ry="3.92" fill="#5a14e6"/><ellipse cx="78.20" cy="226.60" rx="2.00" ry="2.00" fill="#00dcff"/><ellipse cx="95.50" cy="213.10" rx="3.80" ry="3.20" fill="#c8b4ff"/><ellipse cx="95.50" cy="213.10" rx="2.66" ry="2.24" fill="#5a14e6"/><ellipse cx="95.50" cy="230.00" rx="6.40" ry="5.40" fill="#c8b4ff"/><ellipse cx="95.50" cy="230.00" rx="4.48" ry="3.78" fill="#5a14e6"/><ellipse cx="108.50" cy="214.50" rx="1.60" ry="1.60" fill="#5a14e6"/><ellipse cx="104.90" cy="223.20" rx="2.20" ry="3.00" fill="#c8b4ff"/><ellipse cx="104.90" cy="223.20" rx="1.54" ry="2.10" fill="#5a14e6"/><ellipse cx="112.60" cy="228.30" rx="4.80" ry="5.00" fill="#c8b4ff"/><ellipse cx="112.60" cy="228.30" rx="4.22" ry="4.40" fill="#5a14e6"/><ellipse cx="112.60" cy="228.30" rx="3.65" ry="3.80" fill="#1428ff"/><ellipse cx="112.60" cy="228.30" rx="3.07" ry="3.20" fill="#1428ff"/><ellipse cx="112.60" cy="228.30" rx="2.50" ry="2.60" fill="#00dcff"/><ellipse cx="137.30" cy="226.60" rx="5.60" ry="5.00" fill="#c8b4ff"/><ellipse cx="137.30" cy="226.60" rx="4.93" ry="4.40" fill="#1428ff"/><ellipse cx="137.30" cy="226.60" rx="4.26" ry="3.80" fill="#5a14e6"/><ellipse cx="137.30" cy="226.60" rx="3.58" ry="3.20" fill="#ff1010"/><ellipse cx="137.30" cy="226.60" rx="2.91" ry="2.60" fill="#ff1010"/><ellipse cx="135.50" cy="232.50" rx="2.20" ry="1.40" fill="#ffb4e6"/><ellipse cx="135.50" cy="232.50" rx="1.54" ry="0.98" fill="#ff1010"/><ellipse cx="178.10" cy="211.90" rx="3.40" ry="2.40" fill="#c8b4ff"/><ellipse cx="178.10" cy="211.90" rx="2.38" ry="1.68" fill="#5a14e6"/><ellipse cx="174.90" cy="225.80" rx="2.20" ry="3.00" fill="#c8b4ff"/><ellipse cx="174.90" cy="225.80" rx="1.54" ry="2.10" fill="#5a14e6"/><ellipse cx="190.00" cy="226.00" rx="1.60" ry="1.60" fill="#c8b4ff"/><ellipse cx="176.50" cy="267.00" rx="2.80" ry="3.80" fill="#c8b4ff"/><ellipse cx="176.50" cy="267.00" rx="2.24" ry="3.04" fill="#1428ff"/><ellipse cx="176.50" cy="267.00" rx="1.68" ry="2.28" fill="#00dcff"/><ellipse cx="182.50" cy="261.00" rx="1.80" ry="1.80" fill="#f4e4c0"/></g><text x="298.2" y="14.8" font-size="17.5" font-weight="bold">B</text><line x1="334.2" y1="67.6" x2="354" y2="67.6" stroke="#8fb4e4" stroke-width="1.2"/><text transform="translate(364.6,72.5) scale(1,0.93)" font-size="11.7">CD19-ENG</text><line x1="334.2" y1="84.3" x2="354" y2="84.3" stroke="#3a6a5c" stroke-width="1.2"/><text transform="translate(364.6,88.9) scale(1,0.93)" font-size="11.7">CD19-ENG.41BBL/CD80</text><line x1="334.2" y1="100.7" x2="354" y2="100.7" stroke="#4040b0" stroke-width="1.2"/><text transform="translate(366.0,105.5) scale(1,0.93)" font-size="11.7">EphA2-ENG.41BBL/CD80</text><path d="M362.9,120.75 V258.0 H499.2" fill="none" stroke="#111" stroke-width="1.1"/><path d="M357.90,258.00 H362.9 M360.30,249.77 H362.9 M360.30,244.95 H362.9 M360.30,241.53 H362.9 M360.30,238.88 H362.9 M360.30,236.72 H362.9 M360.30,234.89 H362.9 M360.30,233.30 H362.9 M360.30,231.90 H362.9 M357.90,230.65 H362.9 M360.30,222.42 H362.9 M360.30,217.60 H362.9 M360.30,214.18 H362.9 M360.30,211.53 H362.9 M360.30,209.37 H362.9 M360.30,207.54 H362.9 M360.30,205.95 H362.9 M360.30,204.55 H362.9 M357.90,203.30 H362.9 M360.30,195.07 H362.9 M360.30,190.25 H362.9 M360.30,186.83 H362.9 M360.30,184.18 H362.9 M360.30,182.02 H362.9 M360.30,180.19 H362.9 M360.30,178.60 H362.9 M360.30,177.20 H362.9 M357.90,175.95 H362.9 M360.30,167.72 H362.9 M360.30,162.90 H362.9 M360.30,159.48 H362.9 M360.30,156.83 H362.9 M360.30,154.67 H362.9 M360.30,152.84 H362.9 M360.30,151.25 H362.9 M360.30,149.85 H362.9 M357.90,148.60 H362.9 M360.30,140.37 H362.9 M360.30,135.55 H362.9 M360.30,132.13 H362.9 M360.30,129.48 H362.9 M360.30,127.32 H362.9 M360.30,125.49 H362.9 M360.30,123.90 H362.9 M360.30,122.50 H362.9 M357.90,121.25 H362.9 M362.90,258.0 V263.2 M396.97,258.0 V263.2 M431.05,258.0 V263.2 M465.12,258.0 V263.2 M499.20,258.0 V263.2" stroke="#111" stroke-width="0.9"/><text x="351.80" y="260.60" font-size="11" text-anchor="end">10</text><text x="356.20" y="257.00" font-size="6.3" text-anchor="end">5</text><text x="351.80" y="233.25" font-size="11" text-anchor="end">10</text><text x="356.20" y="229.65" font-size="6.3" text-anchor="end">6</text><text x="351.80" y="205.90" font-size="11" text-anchor="end">10</text><text x="356.20" y="202.30" font-size="6.3" text-anchor="end">7</text><text x="351.80" y="178.55" font-size="11" text-anchor="end">10</text><text x="356.20" y="174.95" font-size="6.3" text-anchor="end">8</text><text x="351.80" y="151.20" font-size="11" text-anchor="end">10</text><text x="356.20" y="147.60" font-size="6.3" text-anchor="end">9</text><text x="348.30" y="123.85" font-size="11" text-anchor="end">10</text><text x="356.20" y="120.25" font-size="6.3" text-anchor="end">10</text><text x="362.90" y="276.5" font-size="11.4" text-anchor="middle">0</text><text x="396.97" y="276.5" font-size="11.4" text-anchor="middle">20</text><text x="431.05" y="276.5" font-size="11.4" text-anchor="middle">40</text><text x="465.12" y="276.5" font-size="11.4" text-anchor="middle">60</text><text x="499.20" y="276.5" font-size="11.4" text-anchor="middle">80</text><text x="431.8" y="298.2" font-size="12.1" text-anchor="middle">Days post tumor cell injection</text><text transform="translate(333.2,190.3) rotate(-90)" font-size="11.5" text-anchor="middle">Radiance</text><polyline points="374.83,241.04 386.75,234.75 393.57,230.65 398.68,219.71 405.49,204.67 410.60,190.99 417.42,177.32 422.53,166.38 429.35,152.43" fill="none" stroke="#5aa6e6" stroke-width="1.15" stroke-linejoin="round"/><polyline points="374.83,237.49 386.75,232.02 393.57,229.28 398.68,222.44 405.49,208.77 410.60,199.20 417.42,192.36 422.53,182.79 429.35,177.32 434.46,170.48 439.57,166.38" fill="none" stroke="#5aa6e6" stroke-width="1.15" stroke-linejoin="round"/><polyline points="374.83,242.68 386.75,236.12 393.57,232.02 398.68,225.18 405.49,214.24 410.60,204.67 417.42,196.46 422.53,189.62 429.35,182.51 439.57,188.26" fill="none" stroke="#5aa6e6" stroke-width="1.15" stroke-linejoin="round"/><polyline points="374.83,239.40 386.75,233.38 393.57,231.20 398.68,227.92 405.49,219.71 410.60,207.40 417.42,186.89 422.53,175.95 429.35,167.74" fill="none" stroke="#5aa6e6" stroke-width="1.15" stroke-linejoin="round"/><polyline points="374.83,236.12 386.75,231.20 393.57,227.92 398.68,222.44 405.49,215.61 410.60,211.50 417.42,200.56 422.53,193.73" fill="none" stroke="#5aa6e6" stroke-width="1.15" stroke-linejoin="round"/><polyline points="374.83,230.65 386.75,227.92 393.57,222.44 398.68,208.77 405.49,181.69 410.60,211.50 417.42,230.65 429.35,232.02 439.57,230.65 453.20,229.28 465.12,227.92 482.16,229.28 499.20,228.46" fill="none" stroke="#1a6a52" stroke-width="1.3" stroke-linejoin="round"/><polyline points="374.83,232.02 386.75,229.28 393.57,225.18 398.68,216.97 405.49,203.30 410.60,189.62 417.42,164.19 429.35,179.51 439.57,160.09" fill="none" stroke="#1a6a52" stroke-width="1.3" stroke-linejoin="round"/><polyline points="374.83,227.92 386.75,225.18 393.57,219.71 398.68,208.77 405.49,200.56 417.42,208.22 429.35,207.13 439.57,227.92 453.20,229.28 465.12,227.92 482.16,230.65 499.20,231.47" fill="none" stroke="#1a6a52" stroke-width="1.3" stroke-linejoin="round"/><polyline points="374.83,233.38 386.75,236.12 393.57,234.75 398.68,229.28 405.49,225.18 410.60,236.12 417.42,229.28 429.35,232.02 439.57,230.10 453.20,227.92 465.12,229.28 482.16,230.65 499.20,233.38" fill="none" stroke="#1a6a52" stroke-width="1.3" stroke-linejoin="round"/><polyline points="374.83,229.28 386.75,230.65 393.57,236.12 398.68,227.92 405.49,223.81 410.60,230.65 417.42,238.85 429.35,234.75 439.57,232.02 453.20,230.65 465.12,228.46 482.16,227.92 499.20,226.55" fill="none" stroke="#1a6a52" stroke-width="1.3" stroke-linejoin="round"/><polyline points="374.83,234.75 386.75,232.02 393.57,229.28 398.68,222.44 405.49,214.24 410.60,225.18 417.42,232.02 429.35,229.28 439.57,230.65 453.20,232.02 465.12,224.36 482.16,227.37 499.20,226.55" fill="none" stroke="#1a6a52" stroke-width="1.3" stroke-linejoin="round"/><polyline points="374.83,226.55 386.75,227.92 393.57,226.55 398.68,225.18 405.49,230.65 410.60,234.75 417.42,230.65 429.35,227.92 439.57,229.28 453.20,229.28 465.12,230.65 482.16,232.02 499.20,233.93" fill="none" stroke="#1a6a52" stroke-width="1.3" stroke-linejoin="round"/><polyline points="374.83,232.02 386.75,226.55 393.57,223.81 398.68,229.28 405.49,227.92 410.60,226.55 417.42,233.38 429.35,236.12 439.57,233.38 453.20,231.20 465.12,230.10 482.16,231.20 499.20,231.47" fill="none" stroke="#1a6a52" stroke-width="1.3" stroke-linejoin="round"/><polyline points="374.83,228.46 386.75,227.37 393.57,221.08 398.68,203.30 405.49,206.03 410.60,226.55 417.42,229.28 429.35,230.65 439.57,230.65 453.20,230.65 465.12,229.28 482.16,229.28 499.20,228.46" fill="none" stroke="#1a6a52" stroke-width="1.3" stroke-linejoin="round"/><polyline points="374.83,218.62 393.57,168.57 405.49,166.10 410.60,152.43 417.42,144.22" fill="none" stroke="#1f1fc0" stroke-width="1.25" stroke-linejoin="round"/><polyline points="374.83,221.35 393.57,170.48 405.49,168.02 410.60,154.89 417.42,146.41" fill="none" stroke="#1f1fc0" stroke-width="1.25" stroke-linejoin="round"/><polyline points="374.83,223.81 393.57,172.12 405.49,169.66 410.60,157.08 417.42,148.60" fill="none" stroke="#1f1fc0" stroke-width="1.25" stroke-linejoin="round"/><polyline points="374.83,226.27 393.57,173.76 405.49,171.30 410.60,159.27 417.42,150.51" fill="none" stroke="#1f1fc0" stroke-width="1.25" stroke-linejoin="round"/><text x="3.5" y="390.3" font-size="17.5" font-weight="bold">C</text><line x1="16.4" y1="411.6" x2="36.2" y2="411.6" stroke="#8fa6dc" stroke-width="1.2"/><text transform="translate(47.1,416.0) scale(1,0.93)" font-size="11.5">CD19-ENG</text><line x1="16.4" y1="427.9" x2="36.2" y2="427.9" stroke="#3a4a40" stroke-width="1.2"/><text transform="translate(47.1,432.4) scale(1,0.93)" font-size="11.5">CD19-ENG.41BBL/CD80</text><line x1="16.4" y1="445.3" x2="36.2" y2="445.3" stroke="#4848b4" stroke-width="1.2"/><text transform="translate(47.4,449.1) scale(1,0.93)" font-size="11.5">EphA2-ENG.41BBL/CD80</text><path d="M46.3,464.4 V601.3 H228.9" fill="none" stroke="#111" stroke-width="1.1"/><path d="M41.10,601.30 H46.3 M41.10,555.67 H46.3 M41.10,510.03 H46.3 M41.10,464.40 H46.3 M46.30,601.3 V606.3 M91.95,601.3 V606.3 M137.60,601.3 V606.3 M183.25,601.3 V606.3 M228.90,601.3 V606.3" stroke="#111" stroke-width="1.0"/><text x="39.2" y="605.30" font-size="11.4" text-anchor="end">0</text><text x="39.2" y="559.67" font-size="11.4" text-anchor="end">10</text><text x="39.2" y="514.03" font-size="11.4" text-anchor="end">20</text><text x="39.2" y="468.40" font-size="11.4" text-anchor="end">30</text><text x="46.30" y="619.3" font-size="11.4" text-anchor="middle">0</text><text x="91.95" y="619.3" font-size="11.4" text-anchor="middle">20</text><text x="137.60" y="619.3" font-size="11.4" text-anchor="middle">40</text><text x="183.25" y="619.3" font-size="11.4" text-anchor="middle">60</text><text x="228.90" y="619.3" font-size="11.4" text-anchor="middle">80</text><text x="137.0" y="634.6" font-size="12.0" text-anchor="middle">Days post tumor injection</text><text transform="translate(15.4,533.8) rotate(-90)" font-size="11.7" text-anchor="middle">Weight (g)</text><polyline points="62.28,500.91 78.25,498.17 94.23,494.52 110.21,491.78 126.19,489.50 142.17,488.13 158.14,486.76 174.12,485.39 190.10,483.57 206.08,480.83 219.77,479.00 228.90,479.46" fill="none" stroke="#1e8a3c" stroke-width="1.2" stroke-linejoin="round"/><polyline points="62.28,498.17 78.25,495.43 94.23,492.69 110.21,489.95 126.19,491.78 142.17,489.04 158.14,487.22 174.12,486.30 190.10,487.22 206.08,484.48 228.90,482.65" fill="none" stroke="#1e8a3c" stroke-width="1.2" stroke-linejoin="round"/><polyline points="62.28,496.34 78.25,493.61 94.23,490.87 110.21,489.04 126.19,487.22 142.17,490.87 158.14,488.13 174.12,489.04 190.10,486.30 206.08,488.13 228.90,486.30" fill="none" stroke="#1e8a3c" stroke-width="1.2" stroke-linejoin="round"/><polyline points="62.28,493.61 78.25,495.43 94.23,496.34 110.21,493.61 126.19,492.69 142.17,490.87 158.14,492.69 174.12,489.95 190.10,489.04 206.08,487.22 228.90,489.04" fill="none" stroke="#1e8a3c" stroke-width="1.2" stroke-linejoin="round"/><polyline points="62.28,499.99 78.25,497.26 94.23,493.61 110.21,496.34 126.19,494.52 142.17,497.26 158.14,494.52 174.12,492.69 185.53,493.61 201.51,500.45 215.21,494.06 228.90,494.06" fill="none" stroke="#1e8a3c" stroke-width="1.2" stroke-linejoin="round"/><polyline points="62.28,497.26 78.25,491.78 94.23,489.04 110.21,486.30 126.19,488.13 142.17,485.39 158.14,484.48 174.12,487.22 190.10,484.48 206.08,482.65 228.90,483.57" fill="none" stroke="#1e8a3c" stroke-width="1.2" stroke-linejoin="round"/><polyline points="62.28,494.97 78.25,499.08 94.23,495.43 110.21,491.78 126.19,489.95 142.17,493.61 158.14,490.87 174.12,488.13 190.10,490.87 206.08,489.04 228.90,491.78" fill="none" stroke="#1e8a3c" stroke-width="1.2" stroke-linejoin="round"/><polyline points="62.28,505.47 73.69,507.75 87.38,501.82 94.23,499.54 103.36,497.26 115.69,487.22 135.77,478.09 155.86,479.00" fill="none" stroke="#5aa8ea" stroke-width="1.15" stroke-linejoin="round"/><polyline points="62.28,500.91 73.69,498.17 87.38,494.52 94.23,490.87 103.36,489.04 114.78,488.13 126.19,489.95 135.32,493.61 155.86,521.44" fill="none" stroke="#5aa8ea" stroke-width="1.15" stroke-linejoin="round"/><polyline points="62.28,497.26 73.69,494.52 87.38,490.41 94.23,488.13 103.36,486.30 110.21,483.11 135.32,505.47" fill="none" stroke="#5aa8ea" stroke-width="1.15" stroke-linejoin="round"/><polyline points="62.28,502.73 73.69,500.91 87.38,499.08 94.23,497.26 103.36,495.43 110.21,496.34 119.34,500.91 126.19,503.19 137.60,507.75" fill="none" stroke="#5aa8ea" stroke-width="1.15" stroke-linejoin="round"/><polyline points="62.28,494.52 73.69,496.34 87.38,493.61 94.23,489.95 103.36,491.78 110.21,493.61 119.34,490.87 126.19,489.04 135.32,484.93" fill="none" stroke="#5aa8ea" stroke-width="1.15" stroke-linejoin="round"/><polyline points="62.28,485.39 71.41,489.04 78.25,488.13 87.38,483.57 94.23,481.74 104.50,478.55 109.07,486.30 137.60,525.55" fill="none" stroke="#2a2aa8" stroke-width="1.2" stroke-linejoin="round"/><polyline points="62.28,489.04 71.41,491.78 78.25,489.04 87.38,486.30 94.23,484.48 101.08,483.11 112.49,489.04 137.60,520.99" fill="none" stroke="#2a2aa8" stroke-width="1.2" stroke-linejoin="round"/><polyline points="62.28,492.69 71.41,490.87 78.25,489.50 87.38,487.22 94.23,485.85 105.65,485.39 113.63,492.69 136.46,517.79" fill="none" stroke="#2a2aa8" stroke-width="1.2" stroke-linejoin="round"/><polyline points="62.28,495.43 71.41,493.61 78.25,491.78 87.38,489.95 94.23,487.67 103.36,487.22 110.21,489.50" fill="none" stroke="#2a2aa8" stroke-width="1.2" stroke-linejoin="round"/><text x="298.4" y="390.2" font-size="17.5" font-weight="bold">D</text><line x1="301.6" y1="404.6" x2="320.7" y2="404.6" stroke="#4fa2ea" stroke-width="1.8"/><line x1="311.15" y1="401.20000000000005" x2="311.15" y2="404.6" stroke="#111" stroke-width="1.4"/><text transform="translate(331.6,409.3) scale(1,0.93)" font-size="11.7">CD19-ENG</text><line x1="301.6" y1="424.1" x2="320.7" y2="424.1" stroke="#1c5e48" stroke-width="1.8"/><line x1="311.15" y1="420.70000000000005" x2="311.15" y2="424.1" stroke="#111" stroke-width="1.4"/><text transform="translate(331.6,428.3) scale(1,0.93)" font-size="11.7">CD19-ENG.41BBL/CD80</text><line x1="301.6" y1="443.8" x2="320.7" y2="443.8" stroke="#1a1a86" stroke-width="1.8"/><line x1="311.15" y1="440.40000000000003" x2="311.15" y2="443.8" stroke="#111" stroke-width="1.4"/><text transform="translate(332.5,448.1) scale(1,0.93)" font-size="11.7">EphA2-ENG.41BBL/CD80</text><path d="M331.5,465.3 V600.6 H513.8" fill="none" stroke="#111" stroke-width="1.1"/><path d="M326.50,600.60 H331.5 M326.50,532.95 H331.5 M326.50,465.30 H331.5 M331.50,600.6 V605.6 M377.07,600.6 V605.6 M422.65,600.6 V605.6 M468.22,600.6 V605.6 M513.80,600.6 V605.6" stroke="#111" stroke-width="1.0"/><text x="325.0" y="604.60" font-size="11.4" text-anchor="end">0</text><text x="325.0" y="536.95" font-size="11.4" text-anchor="end">50</text><text x="325.0" y="469.30" font-size="11.4" text-anchor="end">100</text><text x="331.50" y="618.6" font-size="11.4" text-anchor="middle">0</text><text x="377.07" y="618.6" font-size="11.4" text-anchor="middle">20</text><text x="422.65" y="618.6" font-size="11.4" text-anchor="middle">40</text><text x="468.22" y="618.6" font-size="11.4" text-anchor="middle">60</text><text x="513.80" y="618.6" font-size="11.4" text-anchor="middle">80</text><text x="422.9" y="633.8" font-size="12.05" text-anchor="middle">Days post tumor injection</text><text transform="translate(301.5,532.6) rotate(-90)" font-size="11.4" text-anchor="middle">Survival (%)</text><text x="449.5" y="494.6" font-size="11.3"><tspan font-style="italic">P</tspan> &lt; 0.0001</text><path d="M331.50,465.30 H420.60 V492.36 H422.88 V519.42 H435.41 V546.48 H437.46 V600.60" fill="none" stroke="#4fa2ea" stroke-width="1.9"/><path d="M331.50,465.30 H395.31 V492.36 H397.58 V573.54 H399.86 V600.60" fill="none" stroke="#1a1a86" stroke-width="1.9"/><path d="M331.50,465.30 H446.12 V478.83 H513.80 V478.83" fill="none" stroke="#1c5e48" stroke-width="1.9"/><path d="M513.80,478.83 V475.23" stroke="#111" stroke-width="1.1"/><path d="M419.70,492.36 V489.16" stroke="#111" stroke-width="1.0"/><path d="M421.98,519.42 V516.22" stroke="#111" stroke-width="1.0"/><path d="M434.51,546.48 V543.28" stroke="#111" stroke-width="1.0"/><path d="M394.41,492.36 V489.16" stroke="#111" stroke-width="1.0"/><path d="M396.68,573.54 V570.34" stroke="#111" stroke-width="1.0"/></svg></body></html>
